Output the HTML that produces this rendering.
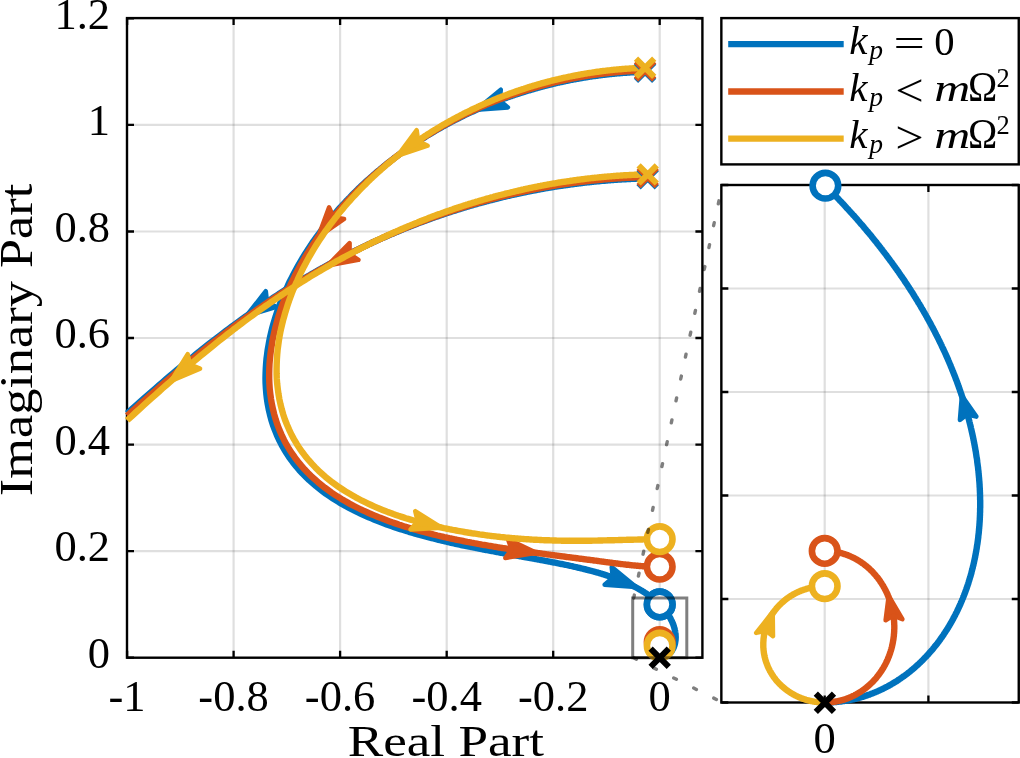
<!DOCTYPE html>
<html><head><meta charset="utf-8"><title>Root Locus</title>
<style>html,body{margin:0;padding:0;background:#fff}svg{display:block}svg text{font-family:"Liberation Serif",serif}</style>
</head><body>
<svg width="1020" height="758" viewBox="0 0 1020 758">
<rect width="1020" height="758" fill="#fff"/>
<path d="M233.6,18.1V657.7M340.1,18.1V657.7M446.7,18.1V657.7M553.2,18.1V657.7M659.7,18.1V657.7" stroke="#262626" stroke-opacity="0.15" stroke-width="2.2" fill="none"/>
<path d="M127.0,551.1H702.4M127.0,444.6H702.4M127.0,338.0H702.4M127.0,231.5H702.4M127.0,124.9H702.4" stroke="#262626" stroke-opacity="0.15" stroke-width="2.2" fill="none"/>
<path d="M824.7,185.0V702.5M928.4,185.0V702.5" stroke="#262626" stroke-opacity="0.15" stroke-width="2.2" fill="none"/>
<path d="M721.35,599.0H1018.75M721.35,495.5H1018.75M721.35,392.0H1018.75M721.35,288.5H1018.75" stroke="#262626" stroke-opacity="0.15" stroke-width="2.2" fill="none"/>
<path d="M127.1,657.7v-7.0M127.1,18.1v7.0M233.6,657.7v-7.0M233.6,18.1v7.0M340.1,657.7v-7.0M340.1,18.1v7.0M446.7,657.7v-7.0M446.7,18.1v7.0M553.2,657.7v-7.0M553.2,18.1v7.0M659.7,657.7v-7.0M659.7,18.1v7.0M127.0,657.7h7.0M702.4,657.7h-7.0M127.0,551.1h7.0M702.4,551.1h-7.0M127.0,444.6h7.0M702.4,444.6h-7.0M127.0,338.0h7.0M702.4,338.0h-7.0M127.0,231.5h7.0M702.4,231.5h-7.0M127.0,124.9h7.0M702.4,124.9h-7.0M127.0,18.3h7.0M702.4,18.3h-7.0M824.7,702.5v-7.0M824.7,185.0v7.0M928.4,702.5v-7.0M928.4,185.0v7.0M721.35,702.5h7.0M1018.75,702.5h-7.0M721.35,599.0h7.0M1018.75,599.0h-7.0M721.35,495.5h7.0M1018.75,495.5h-7.0M721.35,392.0h7.0M1018.75,392.0h-7.0M721.35,288.5h7.0M1018.75,288.5h-7.0M721.35,185.0h7.0M1018.75,185.0h-7.0" stroke="#000" stroke-width="2.3" fill="none"/><rect x="127.0" y="18.1" width="575.4" height="639.6" fill="none" stroke="#000" stroke-width="2.4"/><rect x="721.35" y="185.0" width="297.4" height="517.5" fill="none" stroke="#000" stroke-width="2.4"/>
<g fill="none" stroke-linecap="butt" stroke-linejoin="round">
<path d="M647.7,178.3L647.1,178.4L646.5,178.4L645.9,178.4L645.3,178.4L644.7,178.4L644.1,178.4L643.5,178.5L642.9,178.5L642.2,178.5L641.6,178.5L641.0,178.5L640.4,178.5L639.8,178.6L639.2,178.6L638.5,178.6L637.9,178.6L637.3,178.7L636.6,178.7L636.0,178.7L635.3,178.7L634.7,178.8L634.0,178.8L633.4,178.8L632.8,178.8L632.2,178.9L631.5,178.9L630.9,178.9L630.2,179.0L629.6,179.0L628.9,179.0L628.2,179.1L627.6,179.1L626.9,179.1L626.3,179.2L625.6,179.2L624.9,179.2L624.2,179.3L623.5,179.3L622.9,179.4L622.3,179.4L621.6,179.4L621.0,179.5L620.3,179.5L619.7,179.6L619.0,179.6L618.2,179.6L617.5,179.7L616.8,179.7L616.0,179.8L615.2,179.9L614.6,179.9L614.0,179.9L613.3,180.0L612.7,180.0L612.1,180.1L611.4,180.1L610.7,180.2L610.0,180.2L609.3,180.3L608.6,180.3L607.9,180.4L607.1,180.5L606.4,180.5L605.6,180.6L604.8,180.7L604.0,180.7L603.2,180.8L602.4,180.9L601.6,180.9L600.7,181.0L599.8,181.1L598.9,181.2L598.3,181.2L597.7,181.3L597.1,181.4L596.5,181.4L595.8,181.5L595.2,181.6L594.5,181.6L593.9,181.7L593.2,181.8L592.5,181.8L591.9,181.9L591.2,182.0L590.5,182.0L589.8,182.1L589.0,182.2L588.3,182.3L587.6,182.4L586.8,182.4L586.1,182.5L585.3,182.6L584.6,182.7L583.8,182.8L583.0,182.9L582.2,183.0L581.4,183.1L580.5,183.2L579.7,183.3L578.9,183.4L578.0,183.5L577.2,183.6L576.3,183.7L575.4,183.8L574.5,183.9L573.6,184.1L572.7,184.2L571.8,184.3L570.8,184.4L569.9,184.6L568.9,184.7L567.9,184.8L566.9,185.0L565.9,185.1L564.9,185.3L563.9,185.4L562.9,185.6L561.8,185.7L560.7,185.9L559.7,186.0L558.6,186.2L557.5,186.4L556.4,186.5L555.2,186.7L554.1,186.9L552.9,187.1L551.7,187.3L551.2,187.4L550.6,187.5L550.0,187.6L549.4,187.7L548.7,187.8L548.1,187.9L547.5,188.0L546.9,188.1L546.3,188.2L545.6,188.3L545.0,188.4L544.4,188.5L543.7,188.7L543.1,188.8L542.5,188.9L541.8,189.0L541.2,189.1L540.5,189.2L539.8,189.4L539.2,189.5L538.5,189.6L537.8,189.7L537.1,189.9L536.5,190.0L535.8,190.1L535.1,190.3L534.4,190.4L533.7,190.5L533.0,190.7L532.3,190.8L531.6,190.9L530.8,191.1L530.1,191.2L529.4,191.4L528.7,191.5L527.9,191.7L527.2,191.8L526.4,192.0L525.7,192.1L524.9,192.3L524.2,192.4L523.4,192.6L522.6,192.7L521.9,192.9L521.1,193.1L520.3,193.2L519.5,193.4L518.7,193.6L517.9,193.7L517.1,193.9L516.3,194.1L515.5,194.3L514.7,194.5L513.9,194.6L513.0,194.8L512.2,195.0L511.4,195.2L510.5,195.4L509.7,195.6L508.8,195.8L507.9,196.0L507.1,196.2L506.2,196.4L505.3,196.6L504.4,196.8L503.6,197.0L502.7,197.2L501.8,197.4L500.9,197.7L500.0,197.9L499.0,198.1L498.1,198.3L497.2,198.6L496.3,198.8L495.3,199.0L494.4,199.3L493.4,199.5L492.5,199.8L491.5,200.0L490.5,200.3L489.6,200.5L488.6,200.8L487.6,201.0L486.6,201.3L485.6,201.6L484.6,201.8L483.6,202.1L482.6,202.4L481.5,202.7L480.5,203.0L479.5,203.2L478.4,203.5L477.4,203.8L476.3,204.1L475.3,204.4L474.2,204.7L473.1,205.0L472.0,205.4L470.9,205.7L469.8,206.0L468.7,206.3L467.6,206.6L466.5,207.0L465.4,207.3L464.2,207.7L463.1,208.0L461.9,208.4L460.8,208.7L459.6,209.1L458.5,209.4L457.3,209.8L456.1,210.2L454.9,210.6L453.7,210.9L452.5,211.3L451.3,211.7L450.1,212.1L448.8,212.5L447.6,212.9L446.3,213.3L445.1,213.8L443.8,214.2L442.5,214.6L441.3,215.0L440.0,215.5L438.7,215.9L437.4,216.4L436.1,216.8L434.7,217.3L433.4,217.8L432.1,218.2L430.7,218.7L429.4,219.2L428.0,219.7L426.6,220.2L425.3,220.7L423.9,221.2L422.5,221.7L421.1,222.3L419.6,222.8L418.2,223.3L416.8,223.9L415.3,224.4L413.9,225.0L412.4,225.6L410.9,226.1L409.5,226.7L408.0,227.3L406.5,227.9L404.9,228.5L403.4,229.1L401.9,229.8L400.3,230.4L398.8,231.0L397.2,231.7L395.7,232.3L394.1,233.0L392.5,233.7L390.9,234.4L389.3,235.1L387.6,235.8L386.0,236.5L384.3,237.2L382.7,237.9L381.0,238.7L379.3,239.4L377.6,240.2L375.9,241.0L374.2,241.7L372.5,242.5L370.8,243.3L369.0,244.2L367.2,245.0L365.5,245.8L363.7,246.7L361.9,247.5L360.1,248.4L358.2,249.3L356.4,250.2L354.6,251.1L352.7,252.0L350.8,253.0L348.9,253.9L347.0,254.9L345.1,255.8L343.2,256.8L341.3,257.8L339.3,258.9L337.3,259.9L335.4,260.9L333.4,262.0L331.4,263.1L329.3,264.2L327.3,265.3L325.2,266.4L323.2,267.6L321.1,268.7L319.0,269.9L316.9,271.1L314.8,272.3L312.6,273.5L310.5,274.8L308.3,276.0L306.1,277.3L303.9,278.6L301.7,279.9L299.4,281.3L297.2,282.6L294.9,284.0L292.6,285.4L290.3,286.9L288.0,288.3L285.6,289.8L283.3,291.3L280.9,292.8L278.5,294.3L276.1,295.9L273.6,297.5L271.2,299.1L268.7,300.7L266.2,302.4L263.7,304.1L261.1,305.8L258.6,307.5L256.0,309.3L253.4,311.1L250.8,312.9L248.1,314.8L245.4,316.7L242.7,318.6L240.0,320.6L237.3,322.6L234.5,324.6L231.7,326.6L228.9,328.7L226.0,330.9L223.2,333.0L220.3,335.2L217.3,337.5L214.4,339.7L211.4,342.1L208.4,344.4L205.3,346.8L202.2,349.3L199.1,351.7L196.0,354.3L192.8,356.9L189.6,359.5L186.3,362.2L183.0,364.9L179.7,367.7L176.3,370.5L172.9,373.4L169.5,376.3L166.0,379.3L162.4,382.4L158.8,385.5L155.2,388.6L151.4,391.9L147.7,395.2L143.9,398.5L140.0,402.0L136.1,405.5L132.1,409.0L128.0,412.7L127.1,413.5" stroke="#0072BD" stroke-width="6.4"/>
<path d="M645.1,71.8L644.5,71.8L643.8,71.8L643.2,71.8L642.6,71.9L642.0,71.9L641.4,71.9L640.8,71.9L640.2,71.9L639.6,72.0L639.0,72.0L638.4,72.0L637.8,72.0L637.2,72.1L636.6,72.1L635.9,72.1L635.3,72.2L634.7,72.2L634.0,72.2L633.4,72.3L632.7,72.3L632.1,72.3L631.4,72.4L630.7,72.4L630.1,72.4L629.5,72.5L628.8,72.5L628.2,72.6L627.5,72.6L626.9,72.7L626.2,72.7L625.5,72.7L624.9,72.8L624.2,72.8L623.6,72.9L622.9,72.9L622.2,73.0L621.5,73.0L620.8,73.1L620.2,73.2L619.6,73.2L618.9,73.3L618.3,73.3L617.6,73.4L616.9,73.4L616.2,73.5L615.5,73.6L614.8,73.6L614.0,73.7L613.3,73.8L612.5,73.9L611.9,73.9L611.3,74.0L610.6,74.1L610.0,74.1L609.3,74.2L608.7,74.3L608.0,74.3L607.3,74.4L606.6,74.5L605.9,74.6L605.2,74.7L604.4,74.7L603.7,74.8L602.9,74.9L602.1,75.0L601.3,75.1L600.5,75.2L599.7,75.3L598.8,75.4L598.0,75.6L597.1,75.7L596.2,75.8L595.6,75.9L595.0,76.0L594.4,76.1L593.8,76.1L593.1,76.2L592.5,76.3L591.8,76.4L591.2,76.5L590.5,76.6L589.8,76.7L589.2,76.8L588.5,76.9L587.8,77.0L587.1,77.1L586.3,77.3L585.6,77.4L584.9,77.5L584.1,77.6L583.4,77.7L582.6,77.9L581.9,78.0L581.1,78.1L580.3,78.3L579.5,78.4L578.7,78.6L577.9,78.7L577.0,78.9L576.2,79.0L575.3,79.2L574.5,79.3L573.6,79.5L572.7,79.7L571.8,79.8L570.9,80.0L570.0,80.2L569.1,80.4L568.2,80.6L567.2,80.7L566.3,80.9L565.3,81.1L564.3,81.4L563.3,81.6L562.3,81.8L561.3,82.0L560.3,82.2L559.2,82.5L558.2,82.7L557.1,82.9L556.0,83.2L554.9,83.5L553.8,83.7L552.7,84.0L551.5,84.3L550.4,84.5L549.2,84.8L548.6,85.0L548.0,85.1L547.5,85.3L546.9,85.4L546.2,85.6L545.6,85.7L545.0,85.9L544.4,86.0L543.8,86.2L543.2,86.4L542.6,86.5L541.9,86.7L541.3,86.9L540.7,87.0L540.0,87.2L539.4,87.4L538.7,87.6L538.1,87.7L537.4,87.9L536.8,88.1L536.1,88.3L535.4,88.5L534.8,88.7L534.1,88.9L533.4,89.1L532.7,89.3L532.0,89.5L531.4,89.7L530.7,89.9L530.0,90.1L529.3,90.3L528.5,90.5L527.8,90.7L527.1,90.9L526.4,91.1L525.7,91.4L524.9,91.6L524.2,91.8L523.5,92.1L522.7,92.3L522.0,92.5L521.2,92.8L520.5,93.0L519.7,93.3L518.9,93.5L518.2,93.8L517.4,94.0L516.6,94.3L515.8,94.5L515.0,94.8L514.2,95.1L513.4,95.3L512.6,95.6L511.8,95.9L511.0,96.2L510.2,96.4L509.4,96.7L508.5,97.0L507.7,97.3L506.9,97.6L506.0,97.9L505.2,98.2L504.3,98.5L503.5,98.8L502.6,99.2L501.7,99.5L500.9,99.8L500.0,100.1L499.1,100.5L498.2,100.8L497.3,101.2L496.4,101.5L495.5,101.9L494.6,102.2L493.7,102.6L492.8,102.9L491.9,103.3L490.9,103.7L490.0,104.1L489.0,104.4L488.1,104.8L487.1,105.2L486.2,105.6L485.2,106.0L484.2,106.4L483.3,106.8L482.3,107.3L481.3,107.7L480.3,108.1L479.3,108.5L478.3,109.0L477.3,109.4L476.3,109.9L475.3,110.3L474.2,110.8L473.2,111.3L472.2,111.7L471.1,112.2L470.1,112.7L469.0,113.2L467.9,113.7L466.9,114.2L465.8,114.7L464.7,115.2L463.6,115.8L462.5,116.3L461.4,116.9L460.3,117.4L459.2,118.0L458.1,118.5L456.9,119.1L455.8,119.7L454.7,120.2L453.5,120.8L452.4,121.4L451.2,122.0L450.0,122.7L448.9,123.3L447.7,123.9L446.5,124.6L445.3,125.2L444.1,125.9L442.9,126.5L441.7,127.2L440.5,127.9L439.2,128.6L438.0,129.3L436.8,130.0L435.5,130.7L434.3,131.4L433.0,132.2L431.8,132.9L430.5,133.7L429.2,134.5L427.9,135.3L426.6,136.0L425.3,136.9L424.0,137.7L422.7,138.5L421.4,139.3L420.0,140.2L418.7,141.0L417.4,141.9L416.0,142.8L414.6,143.7L413.3,144.6L411.9,145.5L410.5,146.5L409.1,147.4L407.8,148.4L406.4,149.3L404.9,150.3L403.5,151.3L402.1,152.3L400.7,153.4L399.2,154.4L397.8,155.5L396.4,156.6L394.9,157.6L393.4,158.8L392.0,159.9L390.5,161.0L389.0,162.2L387.5,163.3L386.0,164.5L384.5,165.7L383.0,167.0L381.5,168.2L380.0,169.5L378.4,170.7L376.9,172.0L375.3,173.4L373.8,174.7L372.2,176.1L370.7,177.4L369.1,178.8L367.5,180.2L365.9,181.7L364.3,183.2L362.7,184.6L361.1,186.1L359.5,187.7L357.9,189.2L356.3,190.8L354.7,192.4L353.0,194.0L351.4,195.7L349.8,197.4L348.1,199.1L346.5,200.8L344.8,202.6L343.1,204.4L341.5,206.2L339.8,208.0L338.1,209.9L336.5,211.8L334.8,213.8L333.1,215.8L331.4,217.8L329.7,219.8L328.0,221.9L326.4,224.0L324.7,226.1L323.0,228.3L321.3,230.5L319.6,232.8L317.9,235.1L316.2,237.4L314.5,239.8L312.8,242.2L311.1,244.7L309.5,247.2L307.8,249.8L306.1,252.4L304.5,255.0L302.8,257.7L301.2,260.5L299.5,263.3L297.9,266.1L296.3,269.0L294.7,272.0L293.1,275.0L291.5,278.1L289.9,281.2L288.4,284.4L286.9,287.7L285.4,291.0L283.9,294.4L282.4,297.8L281.0,301.4L279.6,305.0L278.3,308.6L277.0,312.4L275.7,316.2L274.5,320.1L273.3,324.1L272.2,328.1L271.2,332.3L270.2,336.5L269.3,340.8L268.5,345.2L267.7,349.7L267.1,354.3L266.5,358.9L266.1,363.7L265.8,368.5L265.6,373.4L265.5,378.3L265.6,383.4L265.9,388.5L266.3,393.6L266.9,398.8L267.7,404.0L268.7,409.2L269.9,414.4L271.3,419.7L272.9,424.8L274.8,429.9L276.8,434.9L279.0,439.8L281.5,444.6L284.1,449.3L286.9,453.8L289.8,458.1L292.8,462.2L296.0,466.2L299.2,470.0L302.5,473.6L305.9,477.0L309.2,480.2L312.6,483.2L316.0,486.1L319.4,488.8L322.8,491.4L326.1,493.9L329.5,496.2L332.7,498.3L336.0,500.4L339.2,502.4L342.4,504.2L345.5,506.0L348.6,507.6L351.6,509.2L354.5,510.7L357.5,512.2L360.4,513.5L363.2,514.8L366.0,516.1L368.7,517.3L371.4,518.4L374.0,519.5L376.6,520.6L379.2,521.6L381.7,522.6L384.2,523.5L386.6,524.4L389.0,525.2L391.4,526.1L393.7,526.9L396.0,527.7L398.2,528.4L400.4,529.1L402.6,529.8L404.8,530.5L406.9,531.1L408.9,531.8L411.0,532.4L413.0,533.0L415.0,533.6L417.0,534.1L418.9,534.7L420.8,535.2L422.7,535.7L424.5,536.2L426.4,536.7L428.2,537.2L430.0,537.7L431.7,538.1L433.5,538.5L435.2,539.0L436.9,539.4L438.5,539.8L440.2,540.2L441.8,540.6L443.4,541.0L445.0,541.4L446.6,541.7L448.1,542.1L449.6,542.4L451.1,542.8L452.6,543.1L454.1,543.4L455.6,543.8L457.0,544.1L458.4,544.4L459.8,544.7L461.2,545.0L462.6,545.3L464.0,545.6L465.3,545.8L466.7,546.1L468.0,546.4L469.3,546.7L470.6,546.9L471.8,547.2L473.1,547.4L474.4,547.7L475.6,547.9L476.8,548.2L478.0,548.4L479.2,548.7L480.4,548.9L481.6,549.1L482.8,549.3L483.9,549.6L485.1,549.8L486.2,550.0L487.3,550.2L488.4,550.4L489.5,550.6L490.6,550.8L491.7,551.0L492.7,551.2L493.8,551.4L494.8,551.6L495.9,551.8L496.9,552.0L497.9,552.2L498.9,552.4L499.9,552.6L500.9,552.8L501.9,552.9L502.9,553.1L503.8,553.3L504.8,553.5L505.7,553.6L506.7,553.8L507.6,554.0L508.5,554.2L509.4,554.3L510.3,554.5L511.2,554.6L512.1,554.8L513.0,555.0L513.9,555.1L514.8,555.3L515.6,555.4L516.5,555.6L517.3,555.7L518.2,555.9L519.0,556.0L519.8,556.2L520.6,556.3L521.5,556.5L522.3,556.6L523.1,556.8L523.9,556.9L524.6,557.1L525.4,557.2L526.2,557.3L527.0,557.5L527.7,557.6L528.5,557.7L529.2,557.9L530.0,558.0L530.7,558.2L531.4,558.3L532.2,558.4L532.9,558.5L533.6,558.7L534.3,558.8L535.0,558.9L535.7,559.1L536.4,559.2L537.1,559.3L537.8,559.4L538.5,559.6L539.1,559.7L539.8,559.8L540.5,559.9L541.1,560.1L541.8,560.2L542.4,560.3L543.1,560.4L543.7,560.5L544.4,560.7L545.0,560.8L545.6,560.9L546.2,561.0L546.9,561.1L547.5,561.3L548.1,561.4L548.7,561.5L549.3,561.6L549.9,561.7L550.5,561.8L551.6,562.0L552.8,562.3L553.9,562.5L555.0,562.7L556.2,562.9L557.2,563.2L558.3,563.4L559.4,563.6L560.4,563.8L561.5,564.0L562.5,564.2L563.5,564.4L564.5,564.6L565.5,564.8L566.4,565.0L567.4,565.2L568.3,565.4L569.3,565.6L570.2,565.8L571.1,566.0L572.0,566.2L572.9,566.4L573.7,566.6L574.6,566.8L575.4,567.0L576.3,567.2L577.1,567.4L577.9,567.6L578.7,567.8L579.5,567.9L580.3,568.1L581.1,568.3L581.9,568.5L582.6,568.7L583.4,568.9L584.1,569.1L584.9,569.2L585.6,569.4L586.3,569.6L587.0,569.8L587.7,570.0L588.4,570.1L589.1,570.3L589.8,570.5L590.4,570.7L591.1,570.8L591.7,571.0L592.4,571.2L593.0,571.3L593.6,571.5L594.3,571.7L594.9,571.9L595.5,572.0L596.1,572.2L596.7,572.4L597.3,572.5L597.8,572.7L598.7,572.9L599.5,573.2L600.4,573.4L601.2,573.7L602.0,573.9L602.8,574.2L603.6,574.4L604.3,574.6L605.1,574.9L605.8,575.1L606.5,575.3L607.3,575.6L608.0,575.8L608.6,576.0L609.3,576.3L610.0,576.5L610.7,576.7L611.3,576.9L612.0,577.2L612.6,577.4L613.2,577.6L613.8,577.8L614.4,578.0L615.0,578.3L615.6,578.5L616.2,578.7L616.7,578.9L617.5,579.2L618.2,579.4L618.9,579.7L619.6,580.0L620.3,580.3L620.9,580.5L621.6,580.8L622.2,581.1L622.9,581.3L623.5,581.6L624.1,581.8L624.7,582.1L625.3,582.3L625.8,582.6L626.4,582.8L627.1,583.1L627.7,583.4L628.4,583.7L629.0,584.0L629.6,584.3L630.2,584.6L630.8,584.9L631.4,585.1L632.0,585.4L632.5,585.7L633.1,586.0L633.7,586.3L634.3,586.6L634.9,586.9L635.5,587.2L636.1,587.5L636.6,587.8L637.1,588.1L637.8,588.4L638.3,588.7L638.9,589.1L639.5,589.4L640.0,589.7L640.5,590.0L641.1,590.3L641.7,590.6L642.2,591.0L642.7,591.3L643.3,591.6L643.8,592.0L644.3,592.3L644.9,592.7L645.4,593.0L645.9,593.3L646.5,593.7L647.0,594.1L647.5,594.4L648.0,594.8L648.6,595.1L649.1,595.5L649.6,595.9L650.1,596.2L650.6,596.6L651.1,597.0L651.6,597.3L652.0,597.7L652.5,598.1L653.0,598.5L653.5,598.9L654.0,599.2L654.4,599.6L654.9,600.0L655.4,600.4L655.8,600.8L656.3,601.2L656.7,601.6L657.2,602.0L657.6,602.4L658.1,602.9L658.5,603.2" stroke="#0072BD" stroke-width="6.4"/>
<path d="M659.7,657.7L660.3,657.7L660.9,657.6L661.5,657.6L662.1,657.5L662.7,657.4L663.3,657.2L663.9,657.0L664.5,656.8L665.0,656.6L665.6,656.3L666.1,656.0L666.7,655.7L667.2,655.4L667.8,655.0L668.3,654.7L668.8,654.3L669.2,653.8L669.7,653.4L670.1,653.0L670.6,652.5L671.0,652.0L671.4,651.5L671.7,651.0L672.1,650.5L672.4,649.9L672.7,649.4L673.0,648.8L673.3,648.3L673.6,647.7L673.9,647.1L674.1,646.4L674.3,645.9L674.5,645.3L674.7,644.7L674.8,644.1L675.0,643.5L675.1,642.9L675.2,642.3L675.3,641.7L675.4,641.1L675.5,640.4L675.6,639.8L675.6,639.2L675.6,638.6L675.7,638.0L675.7,637.3L675.7,636.7L675.6,636.1L675.6,635.5L675.6,634.9L675.5,634.3L675.5,633.6L675.4,633.0L675.3,632.3L675.2,631.7L675.1,631.0L674.9,630.4L674.8,629.8L674.7,629.2L674.5,628.6L674.4,628.0L674.2,627.4L674.0,626.7L673.8,626.1L673.6,625.5L673.4,624.9L673.2,624.4L673.0,623.8L672.7,623.2L672.5,622.6L672.2,622.1L672.0,621.5L671.7,620.9L671.4,620.3L671.1,619.8L670.9,619.3L670.6,618.7L670.3,618.2L670.0,617.6L669.6,617.1L669.3,616.5L669.0,616.0L668.7,615.5L668.4,615.0L668.0,614.5L667.7,614.0L667.3,613.4L667.0,612.9L666.6,612.4L666.2,611.9L665.9,611.5L665.5,611.0L665.1,610.5L664.8,610.0L664.4,609.5L664.0,609.1L663.6,608.6L663.2,608.2L662.8,607.7L662.4,607.3L662.0,606.8L661.6,606.4L661.2,605.9L660.9,605.6" stroke="#0072BD" stroke-width="6.4"/>
<path d="M476.5,109.7L500.8,89.7L499.7,100.4L507.9,107.4Z" fill="#0072BD" stroke="#0072BD" stroke-width="4.5" stroke-linejoin="round"/>
<path d="M246.4,316.0L265.8,291.2L267.0,301.9L276.5,306.9Z" fill="#0072BD" stroke="#0072BD" stroke-width="4.5" stroke-linejoin="round"/>
<path d="M636.0,587.1L604.6,584.7L612.8,577.8L611.7,567.1Z" fill="#0072BD" stroke="#0072BD" stroke-width="4.5" stroke-linejoin="round"/>
<path d="M647.7,177.0L647.1,177.0L646.5,177.0L645.9,177.1L645.3,177.1L644.7,177.1L644.1,177.1L643.5,177.1L642.9,177.1L642.3,177.2L641.6,177.2L641.0,177.2L640.4,177.2L639.8,177.2L639.2,177.3L638.5,177.3L637.9,177.3L637.3,177.3L636.6,177.4L636.0,177.4L635.3,177.4L634.7,177.4L634.0,177.5L633.4,177.5L632.8,177.5L632.1,177.5L631.5,177.6L630.8,177.6L630.2,177.6L629.6,177.7L628.9,177.7L628.2,177.7L627.6,177.8L626.9,177.8L626.3,177.8L625.6,177.9L624.9,177.9L624.2,178.0L623.5,178.0L622.9,178.0L622.3,178.1L621.6,178.1L621.0,178.2L620.3,178.2L619.6,178.2L618.9,178.3L618.2,178.3L617.5,178.4L616.7,178.4L616.0,178.5L615.2,178.5L614.6,178.6L613.9,178.6L613.3,178.7L612.7,178.7L612.0,178.8L611.4,178.8L610.7,178.9L610.0,178.9L609.3,179.0L608.6,179.1L607.8,179.1L607.1,179.2L606.3,179.2L605.6,179.3L604.8,179.4L604.0,179.4L603.2,179.5L602.4,179.6L601.5,179.7L600.6,179.7L599.8,179.8L598.9,179.9L598.3,180.0L597.7,180.0L597.0,180.1L596.4,180.2L595.8,180.2L595.1,180.3L594.5,180.3L593.8,180.4L593.2,180.5L592.5,180.6L591.8,180.6L591.1,180.7L590.4,180.8L589.7,180.9L589.0,180.9L588.3,181.0L587.5,181.1L586.8,181.2L586.0,181.3L585.3,181.4L584.5,181.5L583.7,181.5L582.9,181.6L582.1,181.7L581.3,181.8L580.5,181.9L579.6,182.0L578.8,182.1L578.0,182.3L577.1,182.4L576.2,182.5L575.3,182.6L574.4,182.7L573.5,182.8L572.6,183.0L571.7,183.1L570.7,183.2L569.8,183.4L568.8,183.5L567.8,183.6L566.9,183.8L565.9,183.9L564.8,184.1L563.8,184.2L562.8,184.4L561.7,184.5L560.7,184.7L559.6,184.9L558.5,185.0L557.4,185.2L556.3,185.4L555.1,185.6L554.0,185.8L552.8,186.0L551.6,186.2L551.1,186.3L550.5,186.4L549.9,186.5L549.3,186.6L548.6,186.7L548.0,186.8L547.4,186.9L546.8,187.0L546.2,187.1L545.5,187.2L544.9,187.3L544.3,187.4L543.6,187.6L543.0,187.7L542.3,187.8L541.7,187.9L541.0,188.0L540.4,188.2L539.7,188.3L539.1,188.4L538.4,188.5L537.7,188.7L537.0,188.8L536.3,188.9L535.7,189.0L535.0,189.2L534.3,189.3L533.6,189.5L532.9,189.6L532.1,189.7L531.4,189.9L530.7,190.0L530.0,190.2L529.3,190.3L528.5,190.5L527.8,190.6L527.0,190.8L526.3,190.9L525.5,191.1L524.8,191.2L524.0,191.4L523.3,191.6L522.5,191.7L521.7,191.9L520.9,192.1L520.2,192.2L519.4,192.4L518.6,192.6L517.8,192.8L517.0,192.9L516.2,193.1L515.3,193.3L514.5,193.5L513.7,193.7L512.9,193.9L512.0,194.1L511.2,194.3L510.4,194.4L509.5,194.6L508.6,194.8L507.8,195.1L506.9,195.3L506.0,195.5L505.2,195.7L504.3,195.9L503.4,196.1L502.5,196.3L501.6,196.6L500.7,196.8L499.8,197.0L498.9,197.2L497.9,197.5L497.0,197.7L496.1,197.9L495.1,198.2L494.2,198.4L493.2,198.7L492.3,198.9L491.3,199.2L490.3,199.4L489.4,199.7L488.4,200.0L487.4,200.2L486.4,200.5L485.4,200.8L484.4,201.0L483.4,201.3L482.4,201.6L481.3,201.9L480.3,202.2L479.3,202.5L478.2,202.8L477.2,203.1L476.1,203.4L475.0,203.7L474.0,204.0L472.9,204.3L471.8,204.6L470.7,205.0L469.6,205.3L468.5,205.6L467.4,206.0L466.3,206.3L465.1,206.7L464.0,207.0L462.9,207.4L461.7,207.7L460.5,208.1L459.4,208.5L458.2,208.8L457.0,209.2L455.8,209.6L454.6,210.0L453.4,210.4L452.2,210.8L451.0,211.2L449.8,211.6L448.6,212.0L447.3,212.4L446.1,212.8L444.8,213.3L443.5,213.7L442.3,214.1L441.0,214.6L439.7,215.0L438.4,215.5L437.1,215.9L435.8,216.4L434.4,216.9L433.1,217.4L431.8,217.8L430.4,218.3L429.1,218.8L427.7,219.3L426.3,219.9L424.9,220.4L423.5,220.9L422.1,221.4L420.7,222.0L419.3,222.5L417.9,223.1L416.4,223.6L415.0,224.2L413.5,224.8L412.0,225.4L410.6,225.9L409.1,226.5L407.6,227.2L406.1,227.8L404.6,228.4L403.0,229.0L401.5,229.7L399.9,230.3L398.4,231.0L396.8,231.6L395.2,232.3L393.7,233.0L392.1,233.7L390.4,234.4L388.8,235.1L387.2,235.8L385.5,236.5L383.9,237.3L382.2,238.0L380.6,238.8L378.9,239.6L377.2,240.3L375.5,241.1L373.7,241.9L372.0,242.7L370.3,243.6L368.5,244.4L366.7,245.3L364.9,246.1L363.2,247.0L361.4,247.9L359.5,248.8L357.7,249.7L355.9,250.6L354.0,251.5L352.1,252.5L350.3,253.4L348.4,254.4L346.5,255.4L344.5,256.4L342.6,257.4L340.6,258.4L338.7,259.5L336.7,260.5L334.7,261.6L332.7,262.7L330.7,263.8L328.7,264.9L326.6,266.1L324.6,267.2L322.5,268.4L320.4,269.6L318.3,270.8L316.1,272.0L314.0,273.3L311.9,274.5L309.7,275.8L307.5,277.1L305.3,278.4L303.1,279.7L300.8,281.1L298.6,282.5L296.3,283.9L294.0,285.3L291.7,286.7L289.4,288.2L287.1,289.7L284.7,291.2L282.3,292.7L279.9,294.3L277.5,295.9L275.1,297.5L272.6,299.1L270.1,300.8L267.6,302.4L265.1,304.1L262.6,305.9L260.0,307.6L257.4,309.4L254.8,311.3L252.2,313.1L249.6,315.0L246.9,316.9L244.2,318.8L241.5,320.8L238.7,322.8L236.0,324.9L233.2,326.9L230.4,329.1L227.5,331.2L224.6,333.4L221.7,335.6L218.8,337.9L215.8,340.2L212.9,342.5L209.8,344.9L206.8,347.3L203.7,349.8L200.6,352.3L197.4,354.9L194.2,357.5L191.0,360.1L187.7,362.8L184.4,365.6L181.1,368.4L177.7,371.2L174.3,374.2L170.8,377.1L167.3,380.1L163.7,383.2L160.1,386.4L156.5,389.6L152.8,392.8L149.0,396.2L145.1,399.6L141.3,403.0L137.3,406.6L133.3,410.2L129.2,413.9L127.1,415.7" stroke="#D95319" stroke-width="6.4"/>
<path d="M645.1,70.5L644.5,70.5L643.9,70.5L643.2,70.5L642.6,70.5L642.0,70.5L641.4,70.6L640.8,70.6L640.2,70.6L639.6,70.6L639.0,70.7L638.4,70.7L637.8,70.7L637.2,70.7L636.6,70.8L635.9,70.8L635.3,70.8L634.6,70.9L634.0,70.9L633.4,70.9L632.7,71.0L632.1,71.0L631.4,71.0L630.8,71.1L630.2,71.1L629.5,71.2L628.9,71.2L628.2,71.2L627.6,71.3L627.0,71.3L626.3,71.4L625.6,71.4L625.0,71.5L624.3,71.5L623.7,71.6L623.0,71.6L622.3,71.7L621.6,71.7L620.9,71.8L620.3,71.8L619.7,71.9L619.1,71.9L618.4,72.0L617.8,72.1L617.1,72.1L616.4,72.2L615.7,72.2L614.9,72.3L614.2,72.4L613.4,72.5L612.6,72.5L612.0,72.6L611.4,72.7L610.8,72.7L610.2,72.8L609.5,72.9L608.8,72.9L608.2,73.0L607.5,73.1L606.8,73.2L606.1,73.3L605.4,73.3L604.6,73.4L603.9,73.5L603.1,73.6L602.3,73.7L601.5,73.8L600.7,73.9L599.9,74.0L599.1,74.1L598.2,74.2L597.3,74.4L596.4,74.5L595.8,74.6L595.2,74.7L594.6,74.7L594.0,74.8L593.4,74.9L592.7,75.0L592.1,75.1L591.4,75.2L590.8,75.3L590.1,75.4L589.4,75.5L588.7,75.6L588.0,75.7L587.3,75.8L586.6,76.0L585.9,76.1L585.2,76.2L584.4,76.3L583.7,76.4L582.9,76.6L582.2,76.7L581.4,76.8L580.6,77.0L579.8,77.1L579.0,77.3L578.2,77.4L577.4,77.5L576.5,77.7L575.7,77.9L574.8,78.0L574.0,78.2L573.1,78.4L572.2,78.5L571.3,78.7L570.4,78.9L569.5,79.1L568.5,79.3L567.6,79.5L566.6,79.7L565.7,79.9L564.7,80.1L563.7,80.3L562.7,80.5L561.7,80.7L560.7,80.9L559.6,81.2L558.6,81.4L557.5,81.7L556.4,81.9L555.3,82.2L554.2,82.4L553.1,82.7L552.0,83.0L550.8,83.3L549.7,83.5L549.1,83.7L548.5,83.8L547.9,84.0L547.3,84.1L546.7,84.3L546.1,84.5L545.5,84.6L544.9,84.8L544.3,84.9L543.7,85.1L543.1,85.3L542.4,85.4L541.8,85.6L541.2,85.8L540.5,85.9L539.9,86.1L539.3,86.3L538.6,86.5L538.0,86.7L537.3,86.8L536.6,87.0L536.0,87.2L535.3,87.4L534.6,87.6L534.0,87.8L533.3,88.0L532.6,88.2L531.9,88.4L531.2,88.6L530.5,88.8L529.8,89.0L529.1,89.2L528.4,89.5L527.7,89.7L527.0,89.9L526.2,90.1L525.5,90.3L524.8,90.6L524.1,90.8L523.3,91.0L522.6,91.3L521.8,91.5L521.1,91.8L520.3,92.0L519.6,92.3L518.8,92.5L518.0,92.8L517.2,93.0L516.5,93.3L515.7,93.6L514.9,93.8L514.1,94.1L513.3,94.4L512.5,94.7L511.7,94.9L510.9,95.2L510.0,95.5L509.2,95.8L508.4,96.1L507.6,96.4L506.7,96.7L505.9,97.0L505.0,97.3L504.2,97.6L503.3,98.0L502.5,98.3L501.6,98.6L500.7,98.9L499.8,99.3L498.9,99.6L498.1,100.0L497.2,100.3L496.3,100.7L495.4,101.0L494.5,101.4L493.5,101.7L492.6,102.1L491.7,102.5L490.8,102.9L489.8,103.2L488.9,103.6L487.9,104.0L487.0,104.4L486.0,104.8L485.0,105.2L484.1,105.7L483.1,106.1L482.1,106.5L481.1,106.9L480.1,107.4L479.1,107.8L478.1,108.3L477.1,108.7L476.1,109.2L475.1,109.6L474.1,110.1L473.0,110.6L472.0,111.1L470.9,111.6L469.9,112.1L468.8,112.6L467.8,113.1L466.7,113.6L465.6,114.1L464.5,114.6L463.4,115.2L462.3,115.7L461.2,116.3L460.1,116.8L459.0,117.4L457.9,118.0L456.8,118.5L455.6,119.1L454.5,119.7L453.3,120.3L452.2,120.9L451.0,121.6L449.9,122.2L448.7,122.8L447.5,123.5L446.3,124.1L445.1,124.8L443.9,125.4L442.7,126.1L441.5,126.8L440.3,127.5L439.1,128.2L437.8,128.9L436.6,129.6L435.4,130.4L434.1,131.1L432.8,131.9L431.6,132.6L430.3,133.4L429.0,134.2L427.7,135.0L426.4,135.8L425.1,136.6L423.8,137.5L422.5,138.3L421.2,139.2L419.9,140.0L418.5,140.9L417.2,141.8L415.8,142.7L414.5,143.6L413.1,144.5L411.8,145.5L410.4,146.4L409.0,147.4L407.6,148.4L406.2,149.4L404.8,150.4L403.4,151.4L402.0,152.4L400.5,153.5L399.1,154.5L397.7,155.6L396.2,156.7L394.8,157.8L393.3,159.0L391.8,160.1L390.4,161.3L388.9,162.4L387.4,163.6L385.9,164.8L384.4,166.1L382.9,167.3L381.4,168.6L379.9,169.9L378.3,171.2L376.8,172.5L375.3,173.9L373.7,175.2L372.2,176.6L370.6,178.0L369.0,179.4L367.5,180.9L365.9,182.4L364.3,183.8L362.7,185.4L361.1,186.9L359.5,188.5L357.9,190.1L356.3,191.7L354.7,193.3L353.1,195.0L351.4,196.7L349.8,198.4L348.2,200.1L346.5,201.9L344.9,203.7L343.2,205.5L341.6,207.4L339.9,209.3L338.3,211.2L336.6,213.2L334.9,215.1L333.3,217.2L331.6,219.2L329.9,221.3L328.3,223.4L326.6,225.6L324.9,227.8L323.2,230.0L321.6,232.3L319.9,234.6L318.2,236.9L316.6,239.3L314.9,241.8L313.2,244.3L311.6,246.8L309.9,249.4L308.3,252.0L306.6,254.6L305.0,257.3L303.4,260.1L301.8,262.9L300.2,265.8L298.6,268.7L297.0,271.7L295.4,274.7L293.9,277.8L292.3,281.0L290.8,284.2L289.3,287.5L287.9,290.8L286.4,294.2L285.0,297.7L283.7,301.3L282.3,304.9L281.0,308.6L279.8,312.4L278.5,316.2L277.4,320.1L276.3,324.1L275.2,328.2L274.2,332.4L273.3,336.6L272.4,340.9L271.7,345.4L271.0,349.9L270.4,354.5L269.9,359.1L269.5,363.9L269.3,368.7L269.2,373.6L269.2,378.6L269.4,383.6L269.7,388.7L270.3,393.8L271.0,399.0L271.9,404.2L273.0,409.4L274.3,414.6L275.8,419.8L277.5,424.9L279.4,429.9L281.6,434.9L283.9,439.7L286.4,444.4L289.1,449.0L292.0,453.4L295.0,457.7L298.1,461.7L301.3,465.6L304.5,469.3L307.8,472.8L311.2,476.1L314.6,479.2L318.0,482.2L321.4,485.0L324.8,487.7L328.2,490.2L331.6,492.6L334.9,494.8L338.2,496.9L341.4,498.9L344.6,500.8L347.8,502.6L350.9,504.4L354.0,506.0L357.0,507.5L360.0,509.0L362.9,510.4L365.8,511.7L368.6,513.0L371.4,514.2L374.2,515.4L376.9,516.5L379.5,517.6L382.1,518.6L384.7,519.6L387.2,520.5L389.7,521.4L392.1,522.3L394.5,523.1L396.9,523.9L399.2,524.7L401.5,525.4L403.8,526.2L406.0,526.9L408.2,527.5L410.4,528.2L412.5,528.8L414.6,529.4L416.6,530.0L418.7,530.6L420.7,531.1L422.6,531.7L424.6,532.2L426.5,532.7L428.4,533.2L430.3,533.7L432.1,534.1L433.9,534.6L435.7,535.0L437.5,535.5L439.3,535.9L441.0,536.3L442.7,536.7L444.4,537.1L446.0,537.4L447.7,537.8L449.3,538.2L450.9,538.5L452.5,538.8L454.1,539.2L455.6,539.5L457.1,539.8L458.6,540.1L460.1,540.4L461.6,540.7L463.1,541.0L464.5,541.3L465.9,541.6L467.3,541.9L468.7,542.1L470.1,542.4L471.5,542.7L472.8,542.9L474.2,543.2L475.5,543.4L476.8,543.6L478.1,543.9L479.4,544.1L480.6,544.3L481.9,544.6L483.1,544.8L484.4,545.0L485.6,545.2L486.8,545.4L488.0,545.6L489.2,545.8L490.3,546.0L491.5,546.2L492.6,546.4L493.8,546.6L494.9,546.8L496.0,546.9L497.1,547.1L498.2,547.3L499.3,547.5L500.4,547.6L501.4,547.8L502.5,548.0L503.5,548.1L504.6,548.3L505.6,548.4L506.6,548.6L507.6,548.8L508.6,548.9L509.6,549.1L510.6,549.2L511.6,549.4L512.5,549.5L513.5,549.6L514.5,549.8L515.4,549.9L516.3,550.1L517.2,550.2L518.2,550.3L519.1,550.5L520.0,550.6L520.9,550.7L521.8,550.8L522.6,551.0L523.5,551.1L524.4,551.2L525.2,551.3L526.1,551.5L526.9,551.6L527.8,551.7L528.6,551.8L529.4,551.9L530.2,552.0L531.0,552.2L531.9,552.3L532.7,552.4L533.4,552.5L534.2,552.6L535.0,552.7L535.8,552.8L536.6,552.9L537.3,553.0L538.1,553.1L538.8,553.2L539.6,553.3L540.3,553.4L541.0,553.5L541.8,553.6L542.5,553.7L543.2,553.8L543.9,553.9L544.6,554.0L545.3,554.1L546.0,554.2L546.7,554.3L547.4,554.4L548.1,554.5L548.8,554.6L549.4,554.6L550.1,554.7L550.8,554.8L551.4,554.9L552.1,555.0L552.7,555.1L553.4,555.2L554.0,555.2L554.6,555.3L555.3,555.4L555.9,555.5L556.5,555.6L557.1,555.7L557.8,555.7L558.4,555.8L559.0,555.9L559.6,556.0L560.2,556.1L561.3,556.2L562.5,556.4L563.7,556.5L564.8,556.7L565.9,556.8L567.0,557.0L568.1,557.1L569.2,557.2L570.2,557.4L571.3,557.5L572.3,557.6L573.3,557.8L574.3,557.9L575.3,558.0L576.3,558.2L577.3,558.3L578.2,558.4L579.2,558.6L580.1,558.7L581.0,558.8L582.0,558.9L582.9,559.0L583.7,559.1L584.6,559.3L585.5,559.4L586.3,559.5L587.2,559.6L588.0,559.7L588.8,559.8L589.7,559.9L590.5,560.0L591.3,560.1L592.0,560.2L592.8,560.3L593.6,560.4L594.3,560.6L595.1,560.6L595.8,560.7L596.6,560.8L597.3,560.9L598.0,561.0L598.7,561.1L599.4,561.2L600.1,561.3L600.8,561.4L601.5,561.5L602.1,561.6L602.8,561.7L603.4,561.8L604.1,561.8L604.7,561.9L605.3,562.0L606.0,562.1L606.6,562.2L607.2,562.2L607.8,562.3L608.4,562.4L609.3,562.5L610.1,562.6L611.0,562.7L611.8,562.8L612.6,563.0L613.5,563.1L614.2,563.2L615.0,563.3L615.8,563.4L616.6,563.5L617.3,563.5L618.0,563.6L618.8,563.7L619.5,563.8L620.2,563.9L620.8,564.0L621.5,564.1L622.2,564.1L622.8,564.2L623.5,564.3L624.1,564.4L624.7,564.4L625.3,564.5L625.9,564.6L626.7,564.7L627.5,564.8L628.2,564.8L629.0,564.9L629.7,565.0L630.4,565.1L631.1,565.2L631.7,565.2L632.4,565.3L633.0,565.4L633.6,565.4L634.3,565.5L634.9,565.5L635.6,565.6L636.3,565.7L637.0,565.7L637.6,565.8L638.3,565.8L638.9,565.9L639.5,566.0L640.3,566.0L640.9,566.1L641.6,566.1L642.3,566.2L642.9,566.2L643.5,566.2L644.1,566.3L644.8,566.3L645.4,566.4L646.1,566.4L646.7,566.4L647.3,566.5L648.0,566.5L648.6,566.5L649.3,566.6L649.9,566.6L650.5,566.6L651.2,566.6L651.8,566.7L652.4,566.7L653.0,566.7L653.6,566.7L654.2,566.7L654.8,566.7L655.4,566.7L656.0,566.7L656.7,566.7L657.3,566.8L657.9,566.8L658.5,566.8L659.1,566.7L659.6,566.7" stroke="#D95319" stroke-width="6.4"/>
<path d="M659.7,657.7L660.3,657.7L660.9,657.6L661.5,657.5L662.1,657.3L662.6,657.0L663.2,656.7L663.7,656.4L664.1,656.0L664.6,655.6L665.0,655.2L665.4,654.7L665.7,654.2L666.0,653.6L666.2,653.1L666.5,652.5L666.6,651.9L666.7,651.3L666.8,650.7L666.8,650.1L666.8,649.5L666.8,648.9L666.7,648.2L666.5,647.6L666.3,647.0L666.1,646.4L665.8,645.9L665.5,645.4L665.1,644.9L664.7,644.4L664.3,644.0L663.8,643.5L663.3,643.2L662.8,642.9L662.3,642.6L661.7,642.4L661.1,642.3L660.5,642.1L659.9,642.1L659.7,642.1" stroke="#D95319" stroke-width="6.4"/>
<path d="M318.2,236.8L329.1,207.3L333.5,217.1L344.1,219.0Z" fill="#D95319" stroke="#D95319" stroke-width="4.5" stroke-linejoin="round"/>
<path d="M327.5,265.5L349.6,243.1L349.6,253.9L358.4,259.9Z" fill="#D95319" stroke="#D95319" stroke-width="4.5" stroke-linejoin="round"/>
<path d="M536.3,552.9L505.3,558.0L511.6,549.3L508.0,539.2Z" fill="#D95319" stroke="#D95319" stroke-width="4.5" stroke-linejoin="round"/>
<path d="M647.7,174.4L647.1,174.4L646.5,174.4L645.9,174.4L645.3,174.4L644.7,174.4L644.1,174.5L643.5,174.5L642.8,174.5L642.2,174.5L641.6,174.5L641.0,174.6L640.4,174.6L639.8,174.6L639.2,174.6L638.6,174.6L637.9,174.7L637.3,174.7L636.6,174.7L636.0,174.7L635.4,174.8L634.7,174.8L634.1,174.8L633.4,174.9L632.8,174.9L632.1,174.9L631.4,174.9L630.8,175.0L630.2,175.0L629.5,175.0L628.8,175.1L628.1,175.1L627.5,175.1L626.9,175.2L626.2,175.2L625.6,175.3L624.9,175.3L624.2,175.3L623.4,175.4L622.8,175.4L622.2,175.5L621.6,175.5L620.9,175.5L620.2,175.6L619.6,175.6L618.9,175.7L618.1,175.7L617.4,175.8L616.7,175.8L615.9,175.9L615.1,175.9L614.5,176.0L613.9,176.0L613.2,176.1L612.6,176.1L611.9,176.2L611.3,176.2L610.6,176.3L609.9,176.4L609.2,176.4L608.5,176.5L607.8,176.5L607.0,176.6L606.3,176.7L605.5,176.7L604.7,176.8L603.9,176.9L603.1,177.0L602.3,177.0L601.4,177.1L600.6,177.2L599.7,177.3L598.8,177.4L598.2,177.4L597.6,177.5L596.9,177.6L596.3,177.6L595.7,177.7L595.0,177.8L594.4,177.8L593.7,177.9L593.1,178.0L592.4,178.0L591.7,178.1L591.0,178.2L590.3,178.3L589.6,178.4L588.9,178.4L588.1,178.5L587.4,178.6L586.7,178.7L585.9,178.8L585.1,178.9L584.4,179.0L583.6,179.1L582.8,179.2L582.0,179.3L581.2,179.4L580.3,179.5L579.5,179.6L578.7,179.7L577.8,179.8L576.9,179.9L576.1,180.1L575.2,180.2L574.3,180.3L573.4,180.4L572.5,180.6L571.5,180.7L570.6,180.8L569.6,181.0L568.7,181.1L567.7,181.3L566.7,181.4L565.7,181.6L564.7,181.7L563.6,181.9L562.6,182.0L561.5,182.2L560.5,182.4L559.4,182.5L558.3,182.7L557.2,182.9L556.1,183.1L554.9,183.3L553.8,183.5L552.6,183.7L551.4,183.9L550.9,184.0L550.3,184.1L549.6,184.2L549.0,184.3L548.4,184.4L547.8,184.5L547.2,184.7L546.6,184.8L546.0,184.9L545.3,185.0L544.7,185.1L544.1,185.2L543.4,185.4L542.8,185.5L542.1,185.6L541.5,185.7L540.8,185.9L540.2,186.0L539.5,186.1L538.8,186.2L538.1,186.4L537.5,186.5L536.8,186.6L536.1,186.8L535.4,186.9L534.7,187.1L534.0,187.2L533.3,187.3L532.6,187.5L531.9,187.6L531.2,187.8L530.5,187.9L529.7,188.1L529.0,188.2L528.3,188.4L527.5,188.6L526.8,188.7L526.0,188.9L525.3,189.0L524.5,189.2L523.8,189.4L523.0,189.6L522.2,189.7L521.4,189.9L520.7,190.1L519.9,190.3L519.1,190.4L518.3,190.6L517.5,190.8L516.7,191.0L515.9,191.2L515.0,191.4L514.2,191.6L513.4,191.8L512.6,192.0L511.7,192.2L510.9,192.4L510.0,192.6L509.2,192.8L508.3,193.0L507.5,193.2L506.6,193.4L505.7,193.6L504.8,193.9L504.0,194.1L503.1,194.3L502.2,194.5L501.3,194.8L500.4,195.0L499.4,195.2L498.5,195.5L497.6,195.7L496.7,196.0L495.7,196.2L494.8,196.5L493.8,196.7L492.9,197.0L491.9,197.3L490.9,197.5L490.0,197.8L489.0,198.1L488.0,198.3L487.0,198.6L486.0,198.9L485.0,199.2L484.0,199.5L483.0,199.8L482.0,200.1L480.9,200.4L479.9,200.7L478.8,201.0L477.8,201.3L476.7,201.6L475.7,201.9L474.6,202.3L473.5,202.6L472.4,202.9L471.4,203.3L470.3,203.6L469.2,203.9L468.0,204.3L466.9,204.6L465.8,205.0L464.7,205.4L463.5,205.7L462.4,206.1L461.2,206.5L460.1,206.9L458.9,207.2L457.7,207.6L456.5,208.0L455.3,208.4L454.1,208.8L452.9,209.3L451.7,209.7L450.5,210.1L449.3,210.5L448.0,210.9L446.8,211.4L445.5,211.8L444.2,212.3L443.0,212.7L441.7,213.2L440.4,213.7L439.1,214.1L437.8,214.6L436.5,215.1L435.2,215.6L433.8,216.1L432.5,216.6L431.2,217.1L429.8,217.6L428.4,218.1L427.1,218.7L425.7,219.2L424.3,219.8L422.9,220.3L421.5,220.9L420.0,221.4L418.6,222.0L417.2,222.6L415.7,223.2L414.3,223.8L412.8,224.4L411.3,225.0L409.8,225.6L408.3,226.2L406.8,226.9L405.3,227.5L403.8,228.2L402.3,228.8L400.7,229.5L399.2,230.2L397.6,230.9L396.0,231.6L394.4,232.3L392.8,233.0L391.2,233.7L389.6,234.4L388.0,235.2L386.3,236.0L384.7,236.7L383.0,237.5L381.3,238.3L379.6,239.1L377.9,239.9L376.2,240.7L374.5,241.5L372.8,242.4L371.0,243.2L369.3,244.1L367.5,245.0L365.7,245.9L363.9,246.8L362.1,247.7L360.3,248.6L358.5,249.6L356.6,250.5L354.8,251.5L352.9,252.5L351.0,253.5L349.1,254.5L347.2,255.5L345.3,256.5L343.3,257.6L341.4,258.6L339.4,259.7L337.4,260.8L335.4,261.9L333.4,263.1L331.4,264.2L329.4,265.4L327.3,266.6L325.3,267.8L323.2,269.0L321.1,270.2L319.0,271.5L316.8,272.7L314.7,274.0L312.5,275.3L310.3,276.6L308.1,278.0L305.9,279.4L303.7,280.7L301.5,282.1L299.2,283.6L296.9,285.0L294.6,286.5L292.3,288.0L290.0,289.5L287.6,291.0L285.2,292.6L282.9,294.2L280.4,295.8L278.0,297.5L275.6,299.1L273.1,300.8L270.6,302.5L268.1,304.3L265.6,306.0L263.0,307.8L260.4,309.7L257.8,311.5L255.2,313.4L252.6,315.3L249.9,317.3L247.2,319.3L244.5,321.3L241.7,323.4L239.0,325.4L236.2,327.6L233.3,329.7L230.5,331.9L227.6,334.1L224.7,336.4L221.8,338.7L218.8,341.1L215.8,343.5L212.8,345.9L209.7,348.4L206.6,350.9L203.5,353.5L200.3,356.1L197.1,358.7L193.9,361.4L190.6,364.2L187.3,367.0L183.9,369.9L180.5,372.8L177.1,375.8L173.6,378.8L170.1,381.9L166.5,385.0L162.8,388.2L159.1,391.5L155.4,394.8L151.6,398.2L147.7,401.7L143.8,405.2L139.8,408.8L135.7,412.5L131.6,416.3L127.3,420.1L127.1,420.3" stroke="#EDB120" stroke-width="6.4"/>
<path d="M659.7,657.7L659.1,657.7L658.5,657.6L657.9,657.5L657.3,657.3L656.8,657.0L656.2,656.7L655.7,656.4L655.3,656.0L654.8,655.5L654.5,655.1L654.1,654.5L653.9,654.0L653.6,653.4L653.5,652.8L653.4,652.2L653.4,651.6L653.4,651.0L653.6,650.4L653.7,649.8L654.0,649.2L654.3,648.7L654.6,648.2L655.0,647.7L655.5,647.3L655.9,646.9L656.5,646.6L657.0,646.3L657.6,646.1L658.1,645.9L658.7,645.8L659.3,645.7L659.7,645.7" stroke="#EDB120" stroke-width="6.4"/>
<path d="M645.1,67.8L644.5,67.8L643.9,67.8L643.3,67.9L642.7,67.9L642.0,67.9L641.4,67.9L640.8,67.9L640.2,68.0L639.6,68.0L639.0,68.0L638.4,68.0L637.8,68.1L637.1,68.1L636.5,68.1L635.9,68.2L635.2,68.2L634.6,68.2L634.0,68.3L633.3,68.3L632.7,68.3L632.0,68.4L631.4,68.4L630.8,68.4L630.2,68.5L629.5,68.5L628.8,68.6L628.2,68.6L627.6,68.6L626.9,68.7L626.2,68.7L625.5,68.8L624.9,68.8L624.3,68.9L623.6,68.9L623.0,69.0L622.3,69.0L621.6,69.1L620.8,69.2L620.2,69.2L619.6,69.3L619.0,69.3L618.3,69.4L617.7,69.4L617.0,69.5L616.3,69.6L615.6,69.6L614.9,69.7L614.1,69.8L613.3,69.9L612.6,69.9L611.9,70.0L611.3,70.1L610.7,70.1L610.1,70.2L609.4,70.3L608.8,70.4L608.1,70.4L607.4,70.5L606.7,70.6L606.0,70.7L605.3,70.8L604.5,70.9L603.8,70.9L603.0,71.0L602.2,71.1L601.4,71.2L600.6,71.4L599.8,71.5L598.9,71.6L598.1,71.7L597.2,71.8L596.3,71.9L595.7,72.0L595.1,72.1L594.5,72.2L593.9,72.3L593.2,72.4L592.6,72.5L591.9,72.6L591.3,72.7L590.6,72.8L590.0,72.9L589.3,73.0L588.6,73.1L587.9,73.2L587.2,73.3L586.5,73.5L585.7,73.6L585.0,73.7L584.3,73.8L583.5,74.0L582.8,74.1L582.0,74.2L581.2,74.4L580.4,74.5L579.6,74.7L578.8,74.8L578.0,75.0L577.2,75.1L576.4,75.3L575.5,75.4L574.6,75.6L573.8,75.8L572.9,75.9L572.0,76.1L571.1,76.3L570.2,76.5L569.3,76.7L568.3,76.9L567.4,77.1L566.4,77.3L565.5,77.5L564.5,77.7L563.5,77.9L562.5,78.1L561.5,78.4L560.5,78.6L559.4,78.8L558.4,79.1L557.3,79.3L556.2,79.6L555.1,79.9L554.0,80.1L552.9,80.4L551.8,80.7L550.6,81.0L549.4,81.3L548.9,81.4L548.3,81.6L547.7,81.8L547.1,81.9L546.5,82.1L545.9,82.2L545.3,82.4L544.7,82.6L544.0,82.7L543.4,82.9L542.8,83.1L542.2,83.2L541.5,83.4L540.9,83.6L540.3,83.8L539.6,84.0L539.0,84.1L538.3,84.3L537.7,84.5L537.0,84.7L536.4,84.9L535.7,85.1L535.0,85.3L534.4,85.5L533.7,85.7L533.0,85.9L532.3,86.1L531.6,86.3L530.9,86.5L530.2,86.7L529.5,87.0L528.8,87.2L528.1,87.4L527.4,87.6L526.7,87.9L526.0,88.1L525.2,88.3L524.5,88.6L523.8,88.8L523.0,89.0L522.3,89.3L521.5,89.5L520.8,89.8L520.0,90.0L519.2,90.3L518.5,90.6L517.7,90.8L516.9,91.1L516.1,91.4L515.4,91.6L514.6,91.9L513.8,92.2L513.0,92.5L512.2,92.8L511.4,93.1L510.5,93.3L509.7,93.6L508.9,94.0L508.1,94.3L507.2,94.6L506.4,94.9L505.6,95.2L504.7,95.5L503.8,95.8L503.0,96.2L502.1,96.5L501.3,96.8L500.4,97.2L499.5,97.5L498.6,97.9L497.7,98.2L496.8,98.6L495.9,99.0L495.0,99.3L494.1,99.7L493.2,100.1L492.3,100.5L491.3,100.9L490.4,101.3L489.5,101.7L488.5,102.1L487.6,102.5L486.6,102.9L485.7,103.3L484.7,103.7L483.7,104.1L482.7,104.6L481.8,105.0L480.8,105.5L479.8,105.9L478.8,106.4L477.8,106.8L476.8,107.3L475.7,107.8L474.7,108.3L473.7,108.8L472.7,109.2L471.6,109.7L470.6,110.3L469.5,110.8L468.5,111.3L467.4,111.8L466.3,112.3L465.2,112.9L464.2,113.4L463.1,114.0L462.0,114.6L460.9,115.1L459.8,115.7L458.7,116.3L457.5,116.9L456.4,117.5L455.3,118.1L454.1,118.7L453.0,119.3L451.8,120.0L450.7,120.6L449.5,121.2L448.3,121.9L447.2,122.6L446.0,123.2L444.8,123.9L443.6,124.6L442.4,125.3L441.2,126.0L440.0,126.8L438.7,127.5L437.5,128.2L436.3,129.0L435.0,129.7L433.8,130.5L432.5,131.3L431.2,132.1L430.0,132.9L428.7,133.7L427.4,134.5L426.1,135.4L424.8,136.2L423.5,137.1L422.2,138.0L420.9,138.8L419.6,139.7L418.2,140.7L416.9,141.6L415.5,142.5L414.2,143.5L412.8,144.4L411.5,145.4L410.1,146.4L408.7,147.4L407.3,148.4L405.9,149.4L404.5,150.5L403.1,151.5L401.7,152.6L400.3,153.7L398.9,154.8L397.4,155.9L396.0,157.1L394.6,158.2L393.1,159.4L391.6,160.6L390.2,161.8L388.7,163.0L387.2,164.3L385.7,165.5L384.2,166.8L382.7,168.1L381.2,169.4L379.7,170.8L378.2,172.1L376.7,173.5L375.2,174.9L373.6,176.3L372.1,177.8L370.5,179.2L369.0,180.7L367.4,182.2L365.9,183.8L364.3,185.3L362.7,186.9L361.1,188.5L359.6,190.1L358.0,191.8L356.4,193.5L354.8,195.2L353.2,196.9L351.6,198.7L350.0,200.5L348.3,202.3L346.7,204.1L345.1,206.0L343.5,207.9L341.9,209.9L340.2,211.8L338.6,213.8L337.0,215.9L335.3,218.0L333.7,220.1L332.1,222.2L330.4,224.4L328.8,226.6L327.2,228.9L325.5,231.2L323.9,233.5L322.3,235.9L320.7,238.3L319.0,240.8L317.4,243.3L315.8,245.8L314.2,248.4L312.6,251.1L311.0,253.8L309.4,256.5L307.9,259.3L306.3,262.2L304.8,265.1L303.2,268.0L301.7,271.1L300.2,274.1L298.7,277.3L297.3,280.5L295.8,283.7L294.4,287.0L293.0,290.4L291.6,293.9L290.3,297.4L289.0,301.0L287.8,304.6L286.6,308.4L285.4,312.2L284.3,316.1L283.2,320.0L282.2,324.1L281.2,328.2L280.3,332.4L279.5,336.7L278.8,341.1L278.2,345.5L277.6,350.1L277.2,354.7L276.9,359.4L276.7,364.1L276.6,369.0L276.6,373.9L276.8,378.9L277.2,383.9L277.8,389.0L278.5,394.1L279.4,399.3L280.5,404.4L281.8,409.5L283.3,414.7L285.0,419.7L287.0,424.7L289.1,429.6L291.4,434.5L293.9,439.1L296.6,443.7L299.4,448.1L302.4,452.3L305.5,456.4L308.7,460.2L312.0,463.9L315.3,467.4L318.7,470.8L322.1,473.9L325.5,476.9L329.0,479.7L332.4,482.4L335.8,484.9L339.2,487.3L342.6,489.5L345.9,491.6L349.2,493.6L352.5,495.5L355.7,497.3L358.9,499.0L362.0,500.7L365.1,502.2L368.1,503.6L371.1,505.0L374.0,506.3L376.9,507.6L379.7,508.8L382.5,509.9L385.3,511.0L388.0,512.1L390.7,513.0L393.3,514.0L395.9,514.9L398.4,515.8L400.9,516.6L403.4,517.4L405.8,518.2L408.2,518.9L410.5,519.6L412.8,520.3L415.1,521.0L417.3,521.6L419.5,522.2L421.7,522.8L423.9,523.4L426.0,523.9L428.1,524.4L430.1,524.9L432.2,525.4L434.2,525.9L436.1,526.4L438.1,526.8L440.0,527.2L441.9,527.7L443.8,528.1L445.6,528.4L447.4,528.8L449.2,529.2L451.0,529.5L452.7,529.9L454.5,530.2L456.2,530.5L457.9,530.8L459.5,531.1L461.2,531.4L462.8,531.7L464.4,532.0L466.0,532.3L467.6,532.5L469.1,532.8L470.7,533.0L472.2,533.3L473.7,533.5L475.2,533.7L476.6,533.9L478.1,534.1L479.5,534.4L481.0,534.6L482.4,534.7L483.8,534.9L485.1,535.1L486.5,535.3L487.8,535.5L489.2,535.6L490.5,535.8L491.8,536.0L493.1,536.1L494.4,536.3L495.6,536.4L496.9,536.6L498.1,536.7L499.3,536.8L500.6,537.0L501.8,537.1L503.0,537.2L504.1,537.3L505.3,537.5L506.5,537.6L507.6,537.7L508.7,537.8L509.9,537.9L511.0,538.0L512.1,538.1L513.2,538.2L514.3,538.3L515.3,538.4L516.4,538.5L517.5,538.5L518.5,538.6L519.5,538.7L520.6,538.8L521.6,538.9L522.6,538.9L523.6,539.0L524.6,539.1L525.5,539.1L526.5,539.2L527.5,539.3L528.4,539.3L529.4,539.4L530.3,539.5L531.2,539.5L532.2,539.6L533.1,539.6L534.0,539.7L534.9,539.7L535.8,539.8L536.7,539.8L537.5,539.9L538.4,539.9L539.3,539.9L540.1,540.0L541.0,540.0L541.8,540.1L542.6,540.1L543.5,540.1L544.3,540.2L545.1,540.2L545.9,540.2L546.7,540.3L547.5,540.3L548.3,540.3L549.0,540.3L549.8,540.4L550.6,540.4L551.3,540.4L552.1,540.4L552.8,540.5L553.6,540.5L554.3,540.5L555.0,540.5L555.8,540.5L556.5,540.6L557.2,540.6L557.9,540.6L558.6,540.6L559.3,540.6L560.0,540.6L560.7,540.6L561.3,540.7L562.0,540.7L562.7,540.7L563.3,540.7L564.0,540.7L564.6,540.7L565.3,540.7L565.9,540.7L566.6,540.7L567.2,540.7L567.8,540.7L568.4,540.7L569.1,540.8L569.7,540.8L570.3,540.8L570.9,540.8L572.1,540.8L573.3,540.8L574.4,540.8L575.5,540.8L576.7,540.8L577.8,540.8L578.9,540.8L579.9,540.8L581.0,540.8L582.0,540.8L583.1,540.8L584.1,540.7L585.1,540.7L586.0,540.7L587.0,540.7L588.0,540.7L588.9,540.7L589.8,540.7L590.7,540.7L591.6,540.7L592.5,540.6L593.4,540.6L594.2,540.6L595.1,540.6L595.9,540.6L596.7,540.6L597.6,540.6L598.4,540.5L599.2,540.5L599.9,540.5L600.7,540.5L601.5,540.5L602.2,540.5L602.9,540.4L603.7,540.4L604.4,540.4L605.1,540.4L605.8,540.4L606.5,540.4L607.1,540.3L607.8,540.3L608.5,540.3L609.1,540.3L609.8,540.3L610.4,540.3L611.0,540.2L611.6,540.2L612.2,540.2L613.1,540.2L614.0,540.2L614.9,540.1L615.7,540.1L616.5,540.1L617.4,540.1L618.1,540.1L618.9,540.0L619.7,540.0L620.4,540.0L621.2,540.0L621.9,540.0L622.6,539.9L623.3,539.9L624.0,539.9L624.6,539.9L625.3,539.9L625.9,539.9L626.5,539.8L627.2,539.8L627.8,539.8L628.6,539.8L629.3,539.8L630.1,539.7L630.8,539.7L631.5,539.7L632.2,539.7L632.9,539.7L633.5,539.7L634.2,539.6L634.8,539.6L635.4,539.6L636.1,539.6L636.9,539.6L637.6,539.6L638.2,539.5L638.9,539.5L639.5,539.5L640.1,539.5L640.8,539.5L641.5,539.5L642.2,539.5L642.8,539.4L643.4,539.4L644.1,539.4L644.8,539.4L645.4,539.4L646.0,539.4L646.7,539.4L647.3,539.4L648.0,539.3L648.6,539.3L649.3,539.3L649.9,539.3L650.5,539.3L651.2,539.3L651.8,539.3L652.4,539.3L653.0,539.3L653.6,539.2L654.2,539.2L654.8,539.2L655.4,539.2L656.0,539.2L656.7,539.2L657.3,539.2L657.9,539.2L658.5,539.2L659.1,539.2L659.7,539.2" stroke="#EDB120" stroke-width="6.4"/>
<path d="M397.8,155.5L416.7,130.2L418.1,140.9L427.7,145.7Z" fill="#EDB120" stroke="#EDB120" stroke-width="4.5" stroke-linejoin="round"/>
<path d="M171.1,380.9L187.7,354.2L190.1,364.7L200.1,368.7Z" fill="#EDB120" stroke="#EDB120" stroke-width="4.5" stroke-linejoin="round"/>
<path d="M441.9,527.8L410.5,529.5L417.7,521.6L415.2,511.1Z" fill="#EDB120" stroke="#EDB120" stroke-width="4.5" stroke-linejoin="round"/>
</g>
<path d="M636.0,62.7L654.2,80.9M636.0,80.9L654.2,62.7" stroke="#0072BD" stroke-width="6.0" fill="none"/>
<path d="M638.6,169.2L656.8,187.4M638.6,187.4L656.8,169.2" stroke="#0072BD" stroke-width="6.0" fill="none"/>
<circle cx="659.7" cy="604.4" r="12.8" stroke="#0072BD" stroke-width="6.6" fill="#fff"/>
<circle cx="659.7" cy="604.4" r="12.8" stroke="#0072BD" stroke-width="6.6" fill="#fff"/>
<path d="M636.0,61.4L654.2,79.6M636.0,79.6L654.2,61.4" stroke="#D95319" stroke-width="6.0" fill="none"/>
<path d="M638.6,167.9L656.8,186.1M638.6,186.1L656.8,167.9" stroke="#D95319" stroke-width="6.0" fill="none"/>
<circle cx="659.7" cy="566.7" r="12.8" stroke="#D95319" stroke-width="6.6" fill="#fff"/>
<circle cx="659.7" cy="642.1" r="12.8" stroke="#D95319" stroke-width="6.6" fill="#fff"/>
<path d="M636.0,58.7L654.2,76.9M636.0,76.9L654.2,58.7" stroke="#EDB120" stroke-width="6.0" fill="none"/>
<path d="M638.6,165.3L656.8,183.5M638.6,183.5L656.8,165.3" stroke="#EDB120" stroke-width="6.0" fill="none"/>
<circle cx="659.7" cy="539.2" r="12.8" stroke="#EDB120" stroke-width="6.6" fill="#fff"/>
<circle cx="659.7" cy="645.7" r="12.8" stroke="#EDB120" stroke-width="6.6" fill="#fff"/>
<path d="M650.6,648.6L668.8,666.8M650.6,666.8L668.8,648.6" stroke="#000" stroke-width="6.0" fill="none"/>
<g fill="none" stroke-linejoin="round">
<path d="M824.7,702.5L825.3,702.5L825.9,702.5L826.5,702.5L827.1,702.5L827.7,702.5L828.3,702.4L828.9,702.4L829.5,702.4L830.2,702.4L830.8,702.4L831.4,702.3L832.0,702.3L832.6,702.3L833.2,702.2L833.9,702.2L834.5,702.1L835.1,702.1L835.8,702.0L836.4,702.0L837.1,701.9L837.7,701.8L838.3,701.8L839.0,701.7L839.6,701.6L840.3,701.6L841.0,701.5L841.6,701.4L842.2,701.3L842.8,701.2L843.5,701.1L844.2,701.0L844.8,700.9L845.4,700.8L846.1,700.7L846.7,700.6L847.4,700.5L848.1,700.4L848.8,700.2L849.5,700.1L850.1,700.0L850.8,699.8L851.4,699.7L852.0,699.6L852.7,699.4L853.4,699.3L854.1,699.1L854.8,699.0L855.5,698.8L856.2,698.6L857.0,698.4L857.7,698.2L858.3,698.0L858.9,697.9L859.5,697.7L860.2,697.5L860.8,697.4L861.4,697.2L862.1,697.0L862.7,696.8L863.4,696.6L864.1,696.4L864.8,696.1L865.4,695.9L866.2,695.7L866.9,695.4L867.6,695.2L868.3,694.9L869.1,694.7L869.9,694.4L870.6,694.1L871.4,693.8L872.2,693.5L873.0,693.2L873.8,692.8L874.7,692.5L875.2,692.3L875.8,692.0L876.4,691.8L876.9,691.6L877.5,691.3L878.1,691.0L878.7,690.8L879.3,690.5L879.9,690.2L880.5,690.0L881.1,689.7L881.7,689.4L882.3,689.1L882.9,688.8L883.6,688.5L884.2,688.2L884.8,687.8L885.5,687.5L886.1,687.2L886.8,686.8L887.4,686.5L888.1,686.1L888.8,685.8L889.4,685.4L890.1,685.0L890.8,684.6L891.5,684.2L892.1,683.8L892.8,683.4L893.5,683.0L894.2,682.6L894.9,682.1L895.6,681.7L896.4,681.3L897.1,680.8L897.8,680.3L898.5,679.9L899.2,679.4L900.0,678.9L900.7,678.4L901.4,677.9L902.2,677.4L902.9,676.8L903.7,676.3L904.4,675.8L905.2,675.2L905.9,674.6L906.7,674.1L907.5,673.5L908.2,672.9L909.0,672.3L909.8,671.7L910.5,671.1L911.3,670.4L912.1,669.8L912.9,669.1L913.6,668.5L914.4,667.8L915.2,667.1L916.0,666.4L916.8,665.7L917.5,665.0L918.3,664.3L919.1,663.6L919.9,662.8L920.7,662.1L921.5,661.3L922.3,660.5L923.1,659.7L923.8,658.9L924.6,658.1L925.4,657.3L926.2,656.5L927.0,655.6L927.8,654.8L928.6,653.9L929.3,653.0L930.1,652.1L930.9,651.3L931.7,650.3L932.1,649.9L932.5,649.4L932.9,649.0L933.2,648.5L933.6,648.0L934.0,647.6L934.4,647.1L934.8,646.6L935.2,646.1L935.5,645.6L935.9,645.2L936.3,644.7L936.7,644.2L937.1,643.7L937.5,643.2L937.8,642.7L938.2,642.2L938.6,641.7L939.0,641.2L939.3,640.7L939.7,640.2L940.1,639.7L940.5,639.1L940.8,638.6L941.2,638.1L941.6,637.6L942.0,637.0L942.3,636.5L942.7,636.0L943.1,635.4L943.4,634.9L943.8,634.4L944.1,633.8L944.5,633.3L944.9,632.7L945.2,632.2L945.6,631.6L945.9,631.1L946.3,630.5L946.7,630.0L947.0,629.4L947.4,628.8L947.7,628.3L948.1,627.7L948.4,627.1L948.8,626.5L949.1,626.0L949.5,625.4L949.8,624.8L950.1,624.2L950.5,623.6L950.8,623.0L951.2,622.5L951.5,621.9L951.8,621.3L952.2,620.7L952.5,620.1L952.8,619.5L953.2,618.9L953.5,618.3L953.8,617.6L954.1,617.0L954.5,616.4L954.8,615.8L955.1,615.2L955.4,614.6L955.7,613.9L956.0,613.3L956.4,612.7L956.7,612.1L957.0,611.4L957.3,610.8L957.6,610.2L957.9,609.5L958.2,608.9L958.5,608.2L958.8,607.6L959.1,607.0L959.4,606.3L959.7,605.7L960.0,605.0L960.3,604.4L960.6,603.7L960.8,603.0L961.1,602.4L961.4,601.7L961.7,601.1L962.0,600.4L962.2,599.7L962.5,599.1L962.8,598.4L963.1,597.7L963.3,597.0L963.6,596.4L963.9,595.7L964.1,595.0L964.4,594.3L964.7,593.7L964.9,593.0L965.2,592.3L965.4,591.6L965.7,590.9L965.9,590.2L966.2,589.5L966.4,588.8L966.7,588.2L966.9,587.5L967.1,586.8L967.4,586.1L967.6,585.4L967.8,584.7L968.1,584.0L968.3,583.3L968.5,582.6L968.7,581.8L969.0,581.1L969.2,580.4L969.4,579.7L969.6,579.0L969.8,578.3L970.0,577.6L970.2,576.9L970.5,576.2L970.7,575.4L970.9,574.7L971.1,574.0L971.3,573.3L971.5,572.6L971.6,571.8L971.8,571.1L972.0,570.4L972.2,569.7L972.4,568.9L972.6,568.2L972.8,567.5L972.9,566.8L973.1,566.0L973.3,565.3L973.5,564.6L973.6,563.8L973.8,563.1L974.0,562.4L974.1,561.6L974.3,560.9L974.4,560.2L974.6,559.4L974.8,558.7L974.9,557.9L975.1,557.2L975.2,556.5L975.3,555.7L975.5,555.0L975.6,554.2L975.8,553.5L975.9,552.7L976.0,552.0L976.2,551.3L976.3,550.5L976.4,549.8L976.6,549.0L976.7,548.3L976.8,547.5L976.9,546.8L977.0,546.0L977.1,545.3L977.3,544.5L977.4,543.8L977.5,543.0L977.6,542.3L977.7,541.5L977.8,540.8L977.9,540.0L978.0,539.3L978.1,538.5L978.2,537.8L978.3,537.0L978.3,536.3L978.4,535.5L978.5,534.8L978.6,534.0L978.7,533.3L978.8,532.5L978.8,531.8L978.9,531.0L979.0,530.3L979.0,529.5L979.1,528.7L979.2,528.0L979.2,527.2L979.3,526.5L979.4,525.7L979.4,525.0L979.5,524.2L979.5,523.5L979.6,522.7L979.6,522.0L979.7,521.2L979.7,520.5L979.8,519.7L979.8,519.0L979.8,518.2L979.9,517.4L979.9,516.7L979.9,515.9L980.0,515.2L980.0,514.4L980.0,513.7L980.0,512.9L980.1,512.2L980.1,511.4L980.1,510.7L980.1,509.9L980.1,509.2L980.1,508.4L980.2,507.7L980.2,506.9L980.2,506.2L980.2,505.4L980.2,504.7L980.2,503.9L980.2,503.2L980.2,502.5L980.2,501.7L980.2,501.0L980.2,500.2L980.1,499.5L980.1,498.7L980.1,498.0L980.1,497.2L980.1,496.5L980.1,495.8L980.0,495.0L980.0,494.3L980.0,493.5L980.0,492.8L979.9,492.0L979.9,491.3L979.9,490.6L979.8,489.8L979.8,489.1L979.8,488.4L979.7,487.6L979.7,486.9L979.6,486.2L979.6,485.4L979.6,484.7L979.5,484.0L979.5,483.2L979.4,482.5L979.4,481.8L979.3,481.0L979.2,480.3L979.2,479.6L979.1,478.8L979.1,478.1L979.0,477.4L978.9,476.7L978.9,475.9L978.8,475.2L978.7,474.5L978.7,473.8L978.6,473.1L978.5,472.3L978.5,471.6L978.4,470.9L978.3,470.2L978.2,469.5L978.1,468.7L978.1,468.0L978.0,467.3L977.9,466.6L977.8,465.9L977.7,465.2L977.6,464.5L977.5,463.8L977.4,463.1L977.3,462.3L977.2,461.6L977.2,460.9L977.1,460.2L977.0,459.5L976.9,458.8L976.8,458.1L976.6,457.4L976.5,456.7L976.4,456.0L976.3,455.3L976.2,454.6L976.1,453.9L976.0,453.2L975.9,452.5L975.8,451.8L975.7,451.1L975.5,450.5L975.4,449.8L975.3,449.1L975.2,448.4L975.1,447.7L974.9,447.0L974.8,446.3L974.7,445.6L974.6,445.0L974.4,444.3L974.3,443.6L974.2,442.9L974.0,442.2L973.9,441.6L973.8,440.9L973.6,440.2L973.5,439.5L973.4,438.9L973.2,438.2L973.1,437.5L973.0,436.9L972.8,436.2L972.7,435.5L972.5,434.9L972.4,434.2L972.2,433.5L972.1,432.9L971.9,432.2L971.8,431.5L971.6,430.9L971.5,430.2L971.3,429.6L971.2,428.9L971.0,428.3L970.9,427.6L970.7,427.0L970.6,426.3L970.4,425.7L970.3,425.0L970.1,424.4L969.9,423.7L969.8,423.1L969.6,422.4L969.4,421.8L969.3,421.1L969.1,420.5L969.0,419.9L968.8,419.2L968.6,418.6L968.4,418.0L968.3,417.3L968.1,416.7L967.9,416.1L967.8,415.4L967.6,414.8L967.4,414.2L967.2,413.5L967.1,412.9L966.9,412.3L966.7,411.7L966.5,411.0L966.4,410.4L966.2,409.8L966.0,409.2L965.8,408.6L965.6,408.0L965.5,407.3L965.3,406.7L965.1,406.1L964.9,405.5L964.7,404.9L964.5,404.3L964.4,403.7L964.2,403.1L964.0,402.5L963.8,401.9L963.6,401.3L963.4,400.7L963.2,400.1L963.0,399.5L962.9,398.9L962.7,398.3L962.5,397.7L962.3,397.1L962.1,396.5L961.9,395.9L961.7,395.3L961.5,394.7L961.3,394.2L961.1,393.6L960.9,393.0L960.7,392.4L960.5,391.8L960.3,391.2L960.1,390.7L959.9,390.1L959.7,389.5L959.5,388.9L959.3,388.4L959.1,387.8L958.9,387.2L958.7,386.7L958.5,386.1L958.3,385.5L958.1,385.0L957.9,384.4L957.5,383.3L957.1,382.2L956.7,381.0L956.2,379.9L955.8,378.8L955.4,377.7L955.0,376.6L954.6,375.5L954.1,374.5L953.7,373.4L953.3,372.3L952.9,371.2L952.4,370.2L952.0,369.1L951.6,368.1L951.1,367.0L950.7,366.0L950.3,364.9L949.8,363.9L949.4,362.9L949.0,361.9L948.5,360.8L948.1,359.8L947.7,358.8L947.2,357.8L946.8,356.8L946.3,355.8L945.9,354.8L945.5,353.9L945.0,352.9L944.6,351.9L944.1,350.9L943.7,350.0L943.2,349.0L942.8,348.1L942.3,347.1L941.9,346.2L941.5,345.2L941.0,344.3L940.6,343.4L940.1,342.5L939.7,341.5L939.2,340.6L938.8,339.7L938.3,338.8L937.9,337.9L937.4,337.0L937.0,336.1L936.5,335.2L936.1,334.4L935.6,333.5L935.2,332.6L934.8,331.7L934.3,330.9L933.9,330.0L933.4,329.2L933.0,328.3L932.5,327.5L932.1,326.6L931.6,325.8L931.2,325.0L930.7,324.1L930.3,323.3L929.9,322.5L929.4,321.7L929.0,320.9L928.5,320.1L928.1,319.3L927.6,318.5L927.2,317.7L926.8,316.9L926.3,316.1L925.9,315.4L925.5,314.6L925.0,313.8L924.6,313.0L924.1,312.3L923.7,311.5L923.3,310.8L922.8,310.0L922.4,309.3L922.0,308.5L921.5,307.8L921.1,307.1L920.7,306.4L920.3,305.6L919.8,304.9L919.4,304.2L919.0,303.5L918.5,302.8L918.1,302.1L917.7,301.4L917.3,300.7L916.8,300.0L916.4,299.3L916.0,298.6L915.6,297.9L915.2,297.3L914.7,296.6L914.3,295.9L913.9,295.3L913.5,294.6L913.1,293.9L912.7,293.3L912.3,292.6L911.9,292.0L911.4,291.3L911.0,290.7L910.6,290.1L910.2,289.4L909.8,288.8L909.4,288.2L909.0,287.6L908.6,287.0L908.2,286.3L907.8,285.7L907.4,285.1L907.0,284.5L906.6,283.9L906.2,283.3L905.8,282.7L905.4,282.2L905.0,281.6L904.7,281.0L904.3,280.4L903.9,279.8L903.5,279.3L903.1,278.7L902.7,278.1L902.3,277.6L902.0,277.0L901.6,276.5L901.2,275.9L900.8,275.4L900.4,274.8L900.1,274.3L899.7,273.7L899.3,273.2L899.0,272.7L898.6,272.1L898.2,271.6L897.8,271.1L897.5,270.6L897.1,270.0L896.8,269.5L896.4,269.0L896.0,268.5L895.7,268.0L895.3,267.5L895.0,267.0L894.6,266.5L894.2,266.0L893.9,265.5L893.5,265.0L893.0,264.3L892.5,263.6L892.0,262.9L891.5,262.2L890.9,261.5L890.4,260.8L889.9,260.1L889.4,259.4L888.9,258.7L888.4,258.1L887.9,257.4L887.4,256.7L886.9,256.1L886.5,255.4L886.0,254.8L885.5,254.2L885.0,253.5L884.5,252.9L884.1,252.3L883.6,251.7L883.1,251.1L882.7,250.5L882.2,249.9L881.8,249.3L881.3,248.7L880.8,248.1L880.4,247.5L880.0,247.0L879.5,246.4L879.1,245.8L878.6,245.3L878.2,244.7L877.8,244.2L877.3,243.7L876.9,243.1L876.5,242.6L876.1,242.1L875.7,241.5L875.2,241.0L874.8,240.5L874.4,240.0L874.0,239.5L873.6,239.0L873.2,238.5L872.8,238.0L872.4,237.5L872.0,237.1L871.7,236.6L871.3,236.1L870.9,235.6L870.4,235.0L869.9,234.4L869.4,233.8L868.9,233.2L868.4,232.6L867.9,232.1L867.4,231.5L867.0,230.9L866.5,230.4L866.0,229.8L865.6,229.3L865.1,228.7L864.7,228.2L864.2,227.7L863.8,227.1L863.3,226.6L862.9,226.1L862.5,225.6L862.1,225.1L861.6,224.6L861.2,224.2L860.8,223.7L860.4,223.2L860.0,222.7L859.6,222.3L859.2,221.8L858.7,221.3L858.2,220.7L857.8,220.2L857.3,219.6L856.8,219.1L856.4,218.6L855.9,218.1L855.5,217.6L855.0,217.1L854.6,216.6L854.2,216.1L853.8,215.6L853.3,215.2L852.9,214.7L852.5,214.3L852.1,213.7L851.6,213.2L851.1,212.7L850.7,212.2L850.2,211.7L849.8,211.2L849.3,210.7L848.9,210.3L848.5,209.8L848.1,209.3L847.7,208.9L847.2,208.4L846.7,207.9L846.3,207.4L845.9,206.9L845.4,206.5L845.0,206.0L844.6,205.6L844.1,205.1L843.7,204.6L843.2,204.1L842.8,203.6L842.4,203.2L842.0,202.7L841.5,202.3L841.1,201.8L840.6,201.3L840.2,200.9L839.8,200.4L839.3,199.9L838.9,199.5L838.5,199.1L838.0,198.6L837.6,198.1L837.2,197.7L836.7,197.2L836.3,196.8L836.1,196.5" stroke="#0072BD" stroke-width="6.4"/>
<path d="M824.7,702.5L825.3,702.5L825.9,702.5L826.5,702.5L827.1,702.5L827.7,702.4L828.3,702.4L828.9,702.4L829.5,702.3L830.2,702.3L830.8,702.2L831.4,702.2L832.0,702.1L832.6,702.0L833.2,701.9L833.8,701.8L834.5,701.8L835.1,701.7L835.7,701.6L836.4,701.4L837.0,701.3L837.6,701.2L838.2,701.1L838.9,700.9L839.5,700.8L840.1,700.6L840.8,700.5L841.4,700.3L842.0,700.2L842.6,700.0L843.2,699.8L843.9,699.6L844.6,699.4L845.2,699.2L845.8,699.0L846.4,698.8L847.0,698.5L847.7,698.3L848.3,698.0L849.0,697.8L849.7,697.5L850.3,697.3L850.8,697.0L851.4,696.8L852.0,696.5L852.6,696.2L853.2,695.9L853.9,695.6L854.5,695.3L855.2,694.9L855.8,694.6L856.5,694.2L857.2,693.8L857.8,693.4L858.4,693.1L858.9,692.8L859.4,692.5L860.0,692.2L860.5,691.8L861.0,691.5L861.6,691.1L862.1,690.7L862.7,690.3L863.3,689.9L863.8,689.5L864.4,689.1L865.0,688.7L865.5,688.2L866.1,687.8L866.7,687.3L867.3,686.8L867.9,686.3L868.5,685.8L869.1,685.3L869.6,684.8L870.2,684.2L870.8,683.6L871.4,683.1L872.0,682.5L872.6,681.9L873.2,681.3L873.8,680.6L874.4,680.0L875.0,679.3L875.6,678.7L876.0,678.2L876.4,677.7L876.7,677.3L877.1,676.8L877.5,676.3L877.9,675.8L878.3,675.3L878.7,674.8L879.0,674.3L879.4,673.8L879.8,673.3L880.2,672.7L880.5,672.2L880.9,671.7L881.3,671.1L881.6,670.6L882.0,670.0L882.4,669.4L882.7,668.9L883.1,668.3L883.4,667.7L883.8,667.1L884.1,666.5L884.4,665.9L884.8,665.3L885.1,664.7L885.4,664.1L885.7,663.4L886.1,662.8L886.4,662.2L886.7,661.5L887.0,660.9L887.3,660.2L887.6,659.6L887.9,658.9L888.1,658.2L888.4,657.5L888.7,656.9L889.0,656.2L889.2,655.5L889.5,654.8L889.7,654.1L890.0,653.4L890.2,652.7L890.4,652.0L890.7,651.2L890.9,650.5L891.1,649.8L891.3,649.1L891.5,648.3L891.7,647.6L891.9,646.8L892.1,646.1L892.2,645.4L892.4,644.6L892.6,643.8L892.7,643.1L892.9,642.3L893.0,641.6L893.1,640.8L893.3,640.0L893.4,639.3L893.5,638.5L893.6,637.7L893.7,636.9L893.8,636.2L893.9,635.4L893.9,634.6L894.0,633.8L894.1,633.0L894.1,632.2L894.2,631.5L894.2,630.7L894.2,629.9L894.3,629.1L894.3,628.3L894.3,627.5L894.3,626.7L894.3,626.0L894.3,625.2L894.2,624.4L894.2,623.6L894.2,622.8L894.1,622.0L894.1,621.2L894.0,620.5L893.9,619.7L893.9,618.9L893.8,618.1L893.7,617.4L893.6,616.6L893.5,615.8L893.4,615.0L893.3,614.3L893.1,613.5L893.0,612.7L892.9,612.0L892.7,611.2L892.6,610.5L892.4,609.7L892.2,609.0L892.1,608.2L891.9,607.5L891.7,606.7L891.5,606.0L891.3,605.3L891.1,604.6L890.9,603.8L890.7,603.1L890.5,602.4L890.2,601.7L890.0,601.0L889.8,600.3L889.5,599.6L889.3,598.9L889.0,598.2L888.7,597.5L888.5,596.8L888.2,596.2L887.9,595.5L887.7,594.8L887.4,594.2L887.1,593.5L886.8,592.9L886.5,592.2L886.2,591.6L885.9,591.0L885.6,590.4L885.2,589.7L884.9,589.1L884.6,588.5L884.3,587.9L883.9,587.3L883.6,586.7L883.3,586.1L882.9,585.6L882.6,585.0L882.2,584.4L881.9,583.9L881.5,583.3L881.2,582.8L880.8,582.2L880.4,581.7L880.1,581.1L879.7,580.6L879.3,580.1L879.0,579.6L878.6,579.1L878.2,578.6L877.9,578.1L877.5,577.6L877.1,577.1L876.7,576.7L876.3,576.2L875.8,575.5L875.2,574.8L874.6,574.2L874.0,573.5L873.4,572.9L872.9,572.2L872.3,571.6L871.7,571.0L871.1,570.5L870.5,569.9L869.9,569.3L869.4,568.8L868.8,568.3L868.2,567.8L867.6,567.2L867.1,566.8L866.5,566.3L865.9,565.8L865.3,565.4L864.8,564.9L864.2,564.5L863.7,564.1L863.1,563.6L862.5,563.2L862.0,562.9L861.5,562.5L860.9,562.1L860.4,561.8L859.8,561.4L859.3,561.1L858.8,560.7L858.3,560.4L857.6,560.0L856.9,559.6L856.2,559.2L855.6,558.9L854.9,558.5L854.3,558.2L853.7,557.9L853.1,557.6L852.4,557.3L851.8,557.0L851.3,556.7L850.7,556.5L850.1,556.2L849.5,556.0L848.9,555.7L848.2,555.4L847.5,555.2L846.9,554.9L846.3,554.7L845.7,554.5L845.1,554.3L844.5,554.1L843.8,553.9L843.2,553.7L842.5,553.5L841.9,553.3L841.3,553.1L840.6,553.0L840.0,552.8L839.4,552.6L838.8,552.5L838.1,552.4L837.5,552.2L836.9,552.1L836.2,552.0L835.6,551.9L835.0,551.8L834.4,551.7L833.8,551.6L833.1,551.5L832.5,551.4L831.8,551.3L831.2,551.3L830.6,551.2L830.0,551.1L829.4,551.1L828.8,551.1L828.2,551.0L827.6,551.0L827.0,551.0L826.4,550.9L825.7,550.9L825.1,550.9L824.8,550.9" stroke="#D95319" stroke-width="6.4"/>
<path d="M824.7,702.5L824.1,702.5L823.5,702.5L822.9,702.5L822.3,702.5L821.7,702.4L821.1,702.4L820.5,702.4L819.8,702.3L819.2,702.3L818.6,702.2L818.0,702.2L817.4,702.1L816.8,702.0L816.2,701.9L815.6,701.9L814.9,701.8L814.3,701.7L813.7,701.6L813.1,701.5L812.4,701.3L811.8,701.2L811.2,701.1L810.5,700.9L809.9,700.8L809.3,700.6L808.6,700.5L808.0,700.3L807.4,700.2L806.8,700.0L806.1,699.8L805.5,699.6L804.9,699.4L804.3,699.2L803.7,699.0L803.1,698.8L802.4,698.6L801.8,698.3L801.1,698.1L800.4,697.8L799.8,697.6L799.3,697.3L798.7,697.1L798.1,696.8L797.5,696.5L796.9,696.2L796.2,695.9L795.6,695.6L794.9,695.3L794.3,694.9L793.6,694.5L792.9,694.2L792.2,693.7L791.7,693.4L791.2,693.1L790.6,692.8L790.1,692.4L789.5,692.1L789.0,691.7L788.4,691.3L787.9,690.9L787.3,690.5L786.7,690.1L786.1,689.7L785.6,689.2L785.0,688.8L784.4,688.3L783.8,687.8L783.2,687.3L782.6,686.8L782.0,686.2L781.4,685.7L780.8,685.1L780.2,684.5L779.6,683.9L779.0,683.3L778.4,682.7L777.8,682.0L777.2,681.3L776.8,680.9L776.4,680.4L776.0,679.9L775.6,679.4L775.3,679.0L774.9,678.5L774.5,677.9L774.1,677.4L773.7,676.9L773.3,676.4L773.0,675.8L772.6,675.3L772.2,674.7L771.9,674.1L771.5,673.6L771.2,673.0L770.8,672.4L770.5,671.8L770.1,671.2L769.8,670.6L769.5,669.9L769.2,669.3L768.8,668.7L768.5,668.0L768.2,667.3L767.9,666.7L767.6,666.0L767.4,665.3L767.1,664.6L766.8,663.9L766.6,663.2L766.3,662.5L766.1,661.8L765.8,661.1L765.6,660.4L765.4,659.6L765.2,658.9L765.0,658.1L764.8,657.4L764.6,656.6L764.5,655.9L764.3,655.1L764.2,654.3L764.0,653.6L763.9,652.8L763.8,652.0L763.7,651.2L763.6,650.4L763.5,649.6L763.5,648.8L763.4,648.1L763.3,647.3L763.3,646.5L763.3,645.7L763.3,644.9L763.3,644.1L763.3,643.3L763.3,642.5L763.4,641.7L763.4,640.9L763.5,640.1L763.5,639.3L763.6,638.5L763.7,637.7L763.8,637.0L763.9,636.2L764.0,635.4L764.2,634.6L764.3,633.9L764.5,633.1L764.6,632.3L764.8,631.6L765.0,630.8L765.2,630.1L765.4,629.3L765.6,628.6L765.8,627.9L766.1,627.2L766.3,626.5L766.6,625.7L766.8,625.0L767.1,624.4L767.4,623.7L767.6,623.0L767.9,622.3L768.2,621.6L768.5,621.0L768.8,620.3L769.1,619.7L769.5,619.1L769.8,618.4L770.1,617.8L770.5,617.2L770.8,616.6L771.1,616.0L771.5,615.4L771.8,614.9L772.2,614.3L772.6,613.7L772.9,613.2L773.3,612.6L773.7,612.1L774.1,611.6L774.4,611.1L774.8,610.5L775.2,610.0L775.6,609.6L776.0,609.1L776.4,608.6L776.7,608.1L777.1,607.7L777.7,607.0L778.3,606.3L778.9,605.7L779.5,605.1L780.1,604.5L780.7,603.9L781.3,603.3L781.9,602.7L782.5,602.2L783.1,601.7L783.7,601.2L784.2,600.7L784.8,600.2L785.4,599.7L786.0,599.3L786.6,598.8L787.1,598.4L787.7,598.0L788.3,597.6L788.8,597.2L789.4,596.9L789.9,596.5L790.5,596.1L791.0,595.8L791.5,595.5L792.1,595.2L792.6,594.8L793.3,594.5L793.9,594.1L794.6,593.7L795.3,593.4L795.9,593.0L796.5,592.7L797.2,592.4L797.8,592.1L798.4,591.9L799.0,591.6L799.5,591.3L800.1,591.1L800.7,590.9L801.3,590.6L802.0,590.3L802.7,590.1L803.3,589.9L803.9,589.7L804.5,589.5L805.1,589.3L805.8,589.1L806.4,588.9L807.1,588.7L807.7,588.5L808.3,588.3L808.9,588.2L809.6,588.0L810.2,587.9L810.8,587.7L811.5,587.6L812.1,587.5L812.7,587.3L813.3,587.2L813.9,587.1L814.6,587.0L815.2,586.9L815.8,586.8L816.4,586.7L817.0,586.7L817.7,586.6L818.3,586.5L818.9,586.5L819.5,586.4L820.1,586.4L820.7,586.3L821.3,586.3L821.9,586.3L822.5,586.2L823.1,586.2L823.7,586.2L824.3,586.2L824.7,586.2" stroke="#EDB120" stroke-width="6.4"/>
</g>
<path d="M961.9,395.8L959.9,420.0L967.1,414.5L976.4,416.6Z" fill="#0072BD" stroke="#0072BD" stroke-width="4.5" stroke-linejoin="round"/>
<path d="M888.7,595.8L885.6,620.3L893.1,615.6L902.4,619.1Z" fill="#D95319" stroke="#D95319" stroke-width="4.5" stroke-linejoin="round"/>
<path d="M772.7,612.0L756.2,632.9L766.0,630.7L773.0,636.2Z" fill="#EDB120" stroke="#EDB120" stroke-width="4.5" stroke-linejoin="round"/>
<circle cx="825.4" cy="185.7" r="12.8" stroke="#0072BD" stroke-width="6.6" fill="#fff"/>
<circle cx="824.7" cy="550.9" r="12.8" stroke="#D95319" stroke-width="6.6" fill="#fff"/>
<circle cx="824.7" cy="586.2" r="12.8" stroke="#EDB120" stroke-width="6.6" fill="#fff"/>
<path d="M815.8,693.6L834.0,711.8M815.8,711.8L834.0,693.6" stroke="#000" stroke-width="6.0" fill="none"/>
<rect x="632.7" y="598.0" width="54.1" height="59.8" fill="none" stroke="#000" stroke-opacity="0.5" stroke-width="3.0"/><path d="M633.7,598.0L722.35,185.0M633.7,657.8L722.35,702.5" stroke="#000" stroke-opacity="0.5" stroke-width="3.4" stroke-linecap="round" stroke-dasharray="3.0 19.4" stroke-dashoffset="0" fill="none"/>
<rect x="721.35" y="18.1" width="297.4" height="146.3" fill="#fff" stroke="#000" stroke-width="2.4"/><path d="M728.2,44.2H843.7" stroke="#0072BD" stroke-width="6.3"/><path d="M728.2,91.5H843.7" stroke="#D95319" stroke-width="6.3"/><path d="M728.2,138.7H843.7" stroke="#EDB120" stroke-width="6.3"/><text transform="translate(849.27,54.00) scale(0.4093,0.3914)" font-size="100" font-style="italic">k</text><text transform="translate(869.15,59.12) scale(0.2755,0.2642)" font-size="100" font-style="italic">p</text><text transform="translate(893.52,57.38) scale(0.5570,0.4040)" font-size="100">=</text><text transform="translate(934.37,54.50) scale(0.4071,0.4000)" font-size="100">0</text><text transform="translate(849.27,101.00) scale(0.4093,0.3914)" font-size="100" font-style="italic">k</text><text transform="translate(869.15,106.12) scale(0.2755,0.2642)" font-size="100" font-style="italic">p</text><text transform="translate(895.27,106.24) scale(0.5054,0.4598)" font-size="100">&lt;</text><text transform="translate(934.25,101.00) scale(0.4992,0.3766)" font-size="100" font-style="italic">m</text><text transform="translate(968.03,100.70) scale(0.3938,0.4136)" font-size="100">Ω</text><text transform="translate(996.61,86.60) scale(0.2650,0.2667)" font-size="100">2</text><text transform="translate(849.27,148.00) scale(0.4093,0.3914)" font-size="100" font-style="italic">k</text><text transform="translate(869.15,153.12) scale(0.2755,0.2642)" font-size="100" font-style="italic">p</text><text transform="translate(895.27,153.24) scale(0.5054,0.4598)" font-size="100">&gt;</text><text transform="translate(934.25,148.00) scale(0.4992,0.3766)" font-size="100" font-style="italic">m</text><text transform="translate(968.03,147.70) scale(0.3938,0.4136)" font-size="100">Ω</text><text transform="translate(996.61,133.60) scale(0.2650,0.2667)" font-size="100">2</text>
<g font-family="'Liberation Serif', serif" fill="#000"><text x="127.1" y="710.6" font-size="44.5" text-anchor="middle">-1</text><text x="233.6" y="710.6" font-size="44.5" text-anchor="middle">-0.8</text><text x="340.1" y="710.6" font-size="44.5" text-anchor="middle">-0.6</text><text x="446.7" y="710.6" font-size="44.5" text-anchor="middle">-0.4</text><text x="553.2" y="710.6" font-size="44.5" text-anchor="middle">-0.2</text><text x="659.7" y="710.6" font-size="44.5" text-anchor="middle">0</text><text x="110.0" y="668.0" font-size="44.5" text-anchor="end">0</text><text x="110.0" y="561.4" font-size="44.5" text-anchor="end">0.2</text><text x="110.0" y="454.9" font-size="44.5" text-anchor="end">0.4</text><text x="110.0" y="348.3" font-size="44.5" text-anchor="end">0.6</text><text x="110.0" y="241.8" font-size="44.5" text-anchor="end">0.8</text><text x="110.0" y="135.2" font-size="44.5" text-anchor="end">1</text><text x="110.0" y="28.6" font-size="44.5" text-anchor="end">1.2</text><text x="824.7" y="753.0" font-size="44.5" text-anchor="middle">0</text><text transform="translate(347.71,755.85) scale(0.5316,0.4482)" font-size="100">Real Part</text><text transform="translate(32.42,496.23) rotate(-90) scale(0.5235,0.4640)" font-size="100">Imaginary Part</text></g>
</svg>
</body></html>
